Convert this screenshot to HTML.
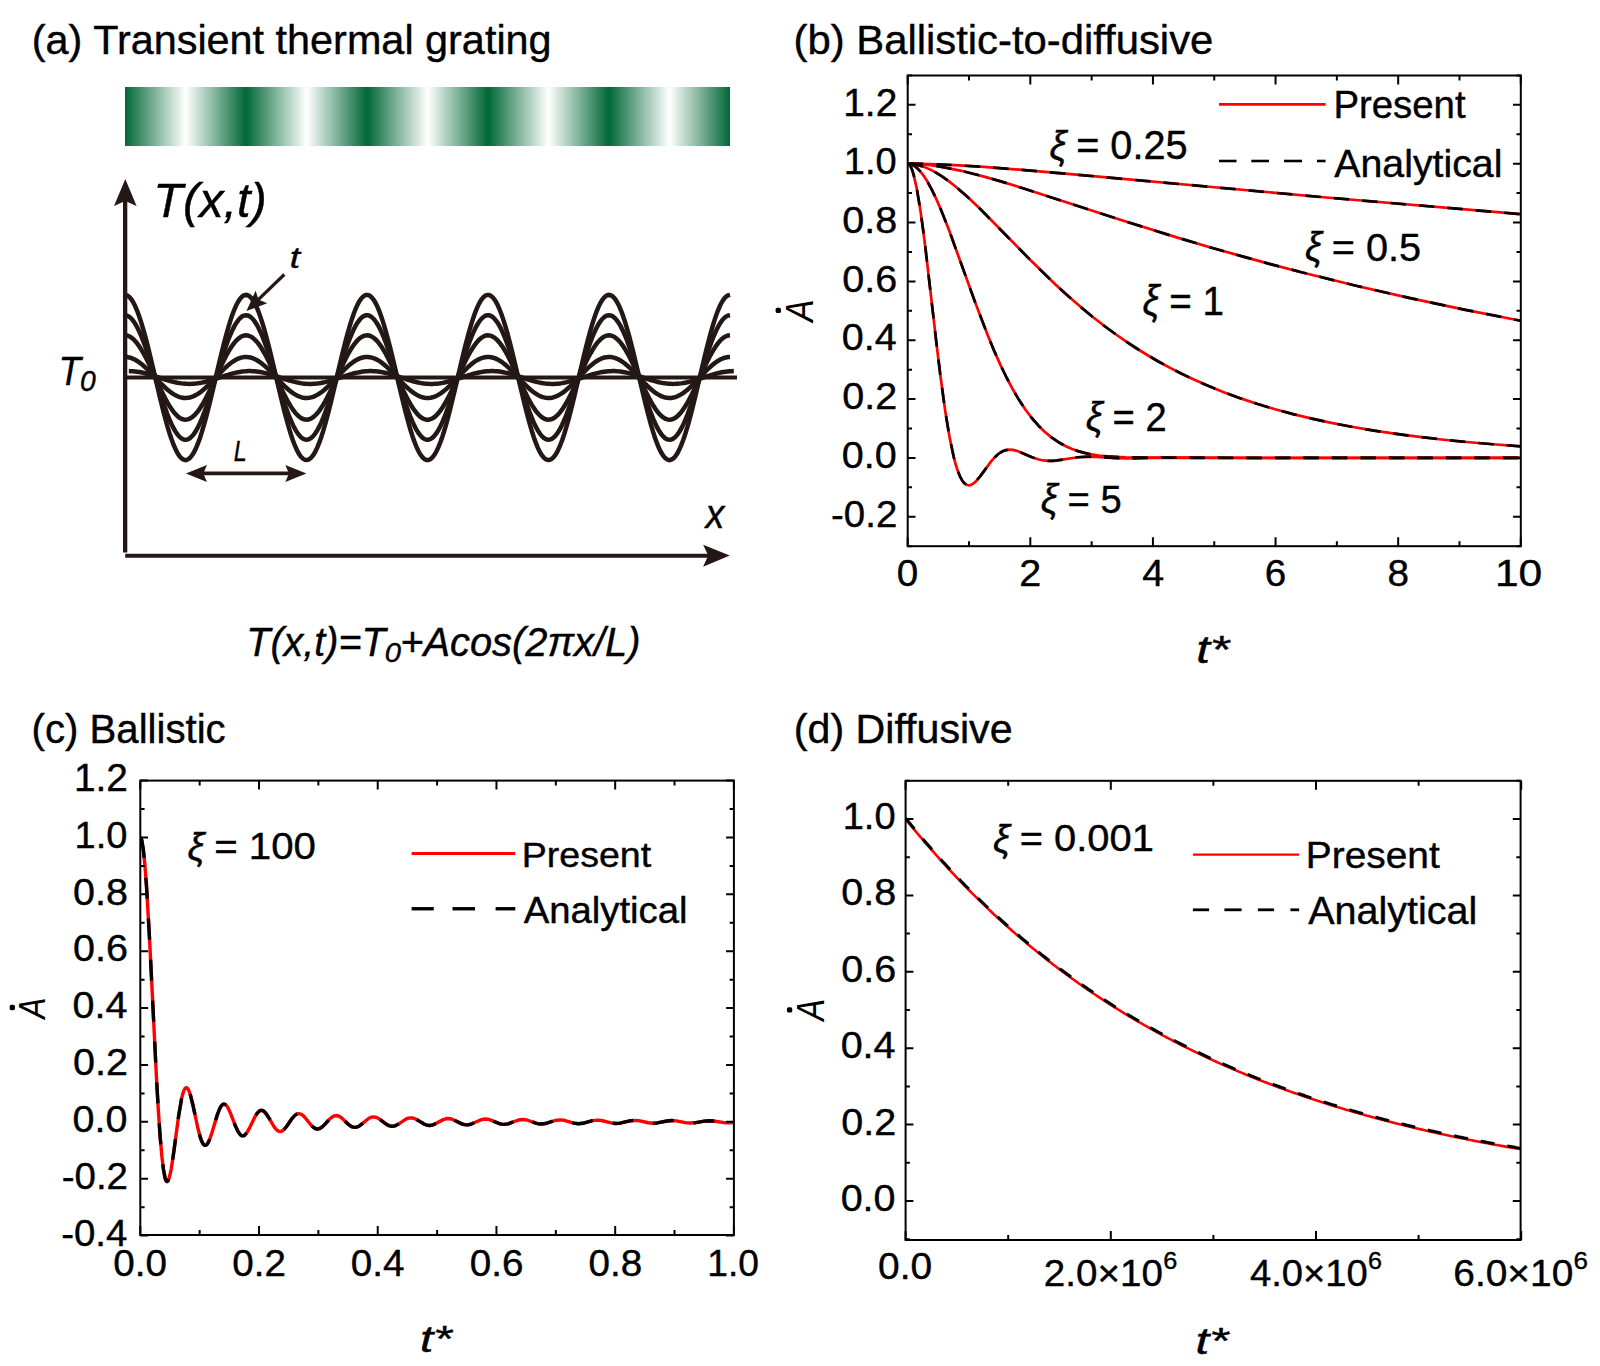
<!DOCTYPE html>
<html><head><meta charset="utf-8"><title>TTG figure</title>
<style>html,body{margin:0;padding:0;background:#fff;}svg{display:block;}</style></head>
<body><svg width="1600" height="1366" viewBox="0 0 1600 1366">
<rect width="1600" height="1366" fill="#fff"/>
<defs><linearGradient id="gr" gradientUnits="userSpaceOnUse" x1="125" y1="0" x2="246" y2="0" spreadMethod="repeat"><stop offset="0" stop-color="#006837"/><stop offset="0.5" stop-color="#ffffff"/><stop offset="1" stop-color="#006837"/></linearGradient></defs>
<rect x="125" y="87" width="605" height="59" fill="url(#gr)"/>
<path d="M125.00,294.90 L127.02,295.36 L129.05,296.72 L131.07,298.97 L133.09,302.09 L135.12,306.04 L137.14,310.78 L139.16,316.25 L141.19,322.40 L143.21,329.16 L145.23,336.45 L147.26,344.19 L149.28,352.31 L151.30,360.69 L153.33,369.27 L155.35,377.93 L157.37,386.59 L159.40,395.15 L161.42,403.52 L163.44,411.60 L165.47,419.30 L167.49,426.54 L169.52,433.24 L171.54,439.33 L173.56,444.73 L175.59,449.39 L177.61,453.26 L179.63,456.30 L181.66,458.46 L183.68,459.73 L185.70,460.10 L187.73,459.55 L189.75,458.10 L191.77,455.76 L193.80,452.55 L195.82,448.52 L197.84,443.71 L199.87,438.16 L201.89,431.95 L203.91,425.13 L205.94,417.79 L207.96,410.01 L209.98,401.87 L212.01,393.45 L214.03,384.87 L216.05,376.20 L218.08,367.54 L220.10,359.00 L222.12,350.66 L224.15,342.61 L226.17,334.95 L228.19,327.76 L230.22,321.12 L232.24,315.10 L234.26,309.77 L236.29,305.18 L238.31,301.40 L240.33,298.45 L242.36,296.37 L244.38,295.19 L246.40,294.92 L248.43,295.56 L250.45,297.10 L252.47,299.53 L254.50,302.81 L256.52,306.92 L258.55,311.82 L260.57,317.43 L262.59,323.71 L264.62,330.58 L266.64,337.97 L268.66,345.79 L270.69,353.96 L272.71,362.40 L274.73,371.00 L276.76,379.67 L278.78,388.32 L280.80,396.85 L282.83,405.16 L284.85,413.17 L286.87,420.79 L288.90,427.93 L290.92,434.51 L292.94,440.46 L294.97,445.72 L296.99,450.23 L299.01,453.94 L301.04,456.80 L303.06,458.79 L305.08,459.88 L307.11,460.06 L309.13,459.33 L311.15,457.70 L313.18,455.18 L315.20,451.81 L317.22,447.62 L319.25,442.65 L321.27,436.97 L323.29,430.63 L325.32,423.71 L327.34,416.27 L329.36,408.41 L331.39,400.20 L333.41,391.75 L335.43,383.14 L337.46,374.46 L339.48,365.82 L341.51,357.31 L343.53,349.02 L345.55,341.05 L347.58,333.48 L349.60,326.39 L351.62,319.87 L353.65,313.98 L355.67,308.79 L357.69,304.36 L359.72,300.74 L361.74,297.96 L363.76,296.06 L365.79,295.06 L367.81,294.97 L369.83,295.79 L371.86,297.51 L373.88,300.11 L375.90,303.57 L377.93,307.84 L379.95,312.88 L381.97,318.63 L384.00,325.04 L386.02,332.02 L388.04,339.50 L390.07,347.40 L392.09,355.63 L394.11,364.11 L396.14,372.73 L398.16,381.40 L400.18,390.04 L402.21,398.53 L404.23,406.79 L406.25,414.73 L408.28,422.26 L410.30,429.29 L412.32,435.75 L414.35,441.57 L416.37,446.69 L418.39,451.04 L420.42,454.58 L422.44,457.27 L424.46,459.08 L426.49,459.99 L428.51,459.99 L430.54,459.08 L432.56,457.27 L434.58,454.58 L436.61,451.04 L438.63,446.69 L440.65,441.57 L442.68,435.75 L444.70,429.29 L446.72,422.26 L448.75,414.73 L450.77,406.79 L452.79,398.53 L454.82,390.04 L456.84,381.40 L458.86,372.73 L460.89,364.11 L462.91,355.63 L464.93,347.40 L466.96,339.50 L468.98,332.02 L471.00,325.04 L473.03,318.63 L475.05,312.88 L477.07,307.84 L479.10,303.57 L481.12,300.11 L483.14,297.51 L485.17,295.79 L487.19,294.97 L489.21,295.06 L491.24,296.06 L493.26,297.96 L495.28,300.74 L497.31,304.36 L499.33,308.79 L501.35,313.98 L503.38,319.87 L505.40,326.39 L507.42,333.48 L509.45,341.05 L511.47,349.02 L513.49,357.31 L515.52,365.82 L517.54,374.46 L519.57,383.14 L521.59,391.75 L523.61,400.20 L525.64,408.41 L527.66,416.27 L529.68,423.71 L531.71,430.63 L533.73,436.97 L535.75,442.65 L537.78,447.62 L539.80,451.81 L541.82,455.18 L543.85,457.70 L545.87,459.33 L547.89,460.06 L549.92,459.88 L551.94,458.79 L553.96,456.80 L555.99,453.94 L558.01,450.23 L560.03,445.72 L562.06,440.46 L564.08,434.51 L566.10,427.93 L568.13,420.79 L570.15,413.17 L572.17,405.16 L574.20,396.85 L576.22,388.32 L578.24,379.67 L580.27,371.00 L582.29,362.40 L584.31,353.96 L586.34,345.79 L588.36,337.97 L590.38,330.58 L592.41,323.71 L594.43,317.43 L596.45,311.82 L598.48,306.92 L600.50,302.81 L602.53,299.53 L604.55,297.10 L606.57,295.56 L608.60,294.92 L610.62,295.19 L612.64,296.37 L614.67,298.45 L616.69,301.40 L618.71,305.18 L620.74,309.77 L622.76,315.10 L624.78,321.12 L626.81,327.76 L628.83,334.95 L630.85,342.61 L632.88,350.66 L634.90,359.00 L636.92,367.54 L638.95,376.20 L640.97,384.87 L642.99,393.45 L645.02,401.87 L647.04,410.01 L649.06,417.79 L651.09,425.13 L653.11,431.95 L655.13,438.16 L657.16,443.71 L659.18,448.52 L661.20,452.55 L663.23,455.76 L665.25,458.10 L667.27,459.55 L669.30,460.10 L671.32,459.73 L673.34,458.46 L675.37,456.30 L677.39,453.26 L679.41,449.39 L681.44,444.73 L683.46,439.33 L685.48,433.24 L687.51,426.54 L689.53,419.30 L691.56,411.60 L693.58,403.52 L695.60,395.15 L697.63,386.59 L699.65,377.93 L701.67,369.27 L703.70,360.69 L705.72,352.31 L707.74,344.19 L709.77,336.45 L711.79,329.16 L713.81,322.40 L715.84,316.25 L717.86,310.78 L719.88,306.04 L721.91,302.09 L723.93,298.97 L725.95,296.72 L727.98,295.36 L730.00,294.90" fill="none" stroke="#231815" stroke-width="4.5"/>
<path d="M125.00,315.20 L127.02,315.54 L129.05,316.57 L131.07,318.27 L133.09,320.62 L135.12,323.60 L137.14,327.18 L139.16,331.30 L141.19,335.94 L143.21,341.04 L145.23,346.54 L147.26,352.38 L149.28,358.50 L151.30,364.82 L153.33,371.29 L155.35,377.83 L157.37,384.36 L159.40,390.82 L161.42,397.12 L163.44,403.22 L165.47,409.03 L167.49,414.49 L169.52,419.54 L171.54,424.13 L173.56,428.21 L175.59,431.72 L177.61,434.64 L179.63,436.93 L181.66,438.56 L183.68,439.52 L185.70,439.80 L187.73,439.38 L189.75,438.29 L191.77,436.52 L193.80,434.11 L195.82,431.07 L197.84,427.44 L199.87,423.25 L201.89,418.57 L203.91,413.43 L205.94,407.89 L207.96,402.02 L209.98,395.88 L212.01,389.53 L214.03,383.06 L216.05,376.52 L218.08,369.99 L220.10,363.55 L222.12,357.25 L224.15,351.19 L226.17,345.41 L228.19,339.99 L230.22,334.98 L232.24,330.44 L234.26,326.41 L236.29,322.96 L238.31,320.10 L240.33,317.88 L242.36,316.31 L244.38,315.42 L246.40,315.21 L248.43,315.69 L250.45,316.86 L252.47,318.69 L254.50,321.17 L256.52,324.27 L258.55,327.96 L260.57,332.19 L262.59,336.93 L264.62,342.11 L266.64,347.68 L268.66,353.58 L270.69,359.75 L272.71,366.11 L274.73,372.60 L276.76,379.14 L278.78,385.66 L280.80,392.09 L282.83,398.36 L284.85,404.40 L286.87,410.15 L288.90,415.53 L290.92,420.50 L292.94,424.99 L294.97,428.96 L296.99,432.36 L299.01,435.15 L301.04,437.31 L303.06,438.81 L305.08,439.63 L307.11,439.77 L309.13,439.22 L311.15,437.99 L313.18,436.09 L315.20,433.55 L317.22,430.39 L319.25,426.64 L321.27,422.36 L323.29,417.57 L325.32,412.35 L327.34,406.74 L329.36,400.81 L331.39,394.62 L333.41,388.25 L335.43,381.75 L337.46,375.21 L339.48,368.69 L341.51,362.27 L343.53,356.02 L345.55,350.01 L347.58,344.30 L349.60,338.95 L351.62,334.03 L353.65,329.59 L355.67,325.68 L357.69,322.34 L359.72,319.60 L361.74,317.51 L363.76,316.08 L365.79,315.32 L367.81,315.26 L369.83,315.87 L371.86,317.17 L373.88,319.13 L375.90,321.74 L377.93,324.96 L379.95,328.76 L381.97,333.10 L384.00,337.93 L386.02,343.19 L388.04,348.84 L390.07,354.80 L392.09,361.01 L394.11,367.40 L396.14,373.90 L398.16,380.44 L400.18,386.95 L402.21,393.36 L404.23,399.59 L406.25,405.58 L408.28,411.26 L410.30,416.56 L412.32,421.44 L414.35,425.83 L416.37,429.68 L418.39,432.97 L420.42,435.63 L422.44,437.66 L424.46,439.03 L426.49,439.71 L428.51,439.71 L430.54,439.03 L432.56,437.66 L434.58,435.63 L436.61,432.97 L438.63,429.68 L440.65,425.83 L442.68,421.44 L444.70,416.56 L446.72,411.26 L448.75,405.58 L450.77,399.59 L452.79,393.36 L454.82,386.95 L456.84,380.44 L458.86,373.90 L460.89,367.40 L462.91,361.01 L464.93,354.80 L466.96,348.84 L468.98,343.19 L471.00,337.93 L473.03,333.10 L475.05,328.76 L477.07,324.96 L479.10,321.74 L481.12,319.13 L483.14,317.17 L485.17,315.87 L487.19,315.26 L489.21,315.32 L491.24,316.08 L493.26,317.51 L495.28,319.60 L497.31,322.34 L499.33,325.68 L501.35,329.59 L503.38,334.03 L505.40,338.95 L507.42,344.30 L509.45,350.01 L511.47,356.02 L513.49,362.27 L515.52,368.69 L517.54,375.21 L519.57,381.75 L521.59,388.25 L523.61,394.62 L525.64,400.81 L527.66,406.74 L529.68,412.35 L531.71,417.57 L533.73,422.36 L535.75,426.64 L537.78,430.39 L539.80,433.55 L541.82,436.09 L543.85,437.99 L545.87,439.22 L547.89,439.77 L549.92,439.63 L551.94,438.81 L553.96,437.31 L555.99,435.15 L558.01,432.36 L560.03,428.96 L562.06,424.99 L564.08,420.50 L566.10,415.53 L568.13,410.15 L570.15,404.40 L572.17,398.36 L574.20,392.09 L576.22,385.66 L578.24,379.14 L580.27,372.60 L582.29,366.11 L584.31,359.75 L586.34,353.58 L588.36,347.68 L590.38,342.11 L592.41,336.93 L594.43,332.19 L596.45,327.96 L598.48,324.27 L600.50,321.17 L602.53,318.69 L604.55,316.86 L606.57,315.69 L608.60,315.21 L610.62,315.42 L612.64,316.31 L614.67,317.88 L616.69,320.10 L618.71,322.96 L620.74,326.41 L622.76,330.44 L624.78,334.98 L626.81,339.99 L628.83,345.41 L630.85,351.19 L632.88,357.25 L634.90,363.55 L636.92,369.99 L638.95,376.52 L640.97,383.06 L642.99,389.53 L645.02,395.88 L647.04,402.02 L649.06,407.89 L651.09,413.43 L653.11,418.57 L655.13,423.25 L657.16,427.44 L659.18,431.07 L661.20,434.11 L663.23,436.52 L665.25,438.29 L667.27,439.38 L669.30,439.80 L671.32,439.52 L673.34,438.56 L675.37,436.93 L677.39,434.64 L679.41,431.72 L681.44,428.21 L683.46,424.13 L685.48,419.54 L687.51,414.49 L689.53,409.03 L691.56,403.22 L693.58,397.12 L695.60,390.82 L697.63,384.36 L699.65,377.83 L701.67,371.29 L703.70,364.82 L705.72,358.50 L707.74,352.38 L709.77,346.54 L711.79,341.04 L713.81,335.94 L715.84,331.30 L717.86,327.18 L719.88,323.60 L721.91,320.62 L723.93,318.27 L725.95,316.57 L727.98,315.54 L730.00,315.20" fill="none" stroke="#231815" stroke-width="4.5"/>
<path d="M125.00,335.30 L127.02,335.53 L129.05,336.23 L131.07,337.38 L133.09,338.97 L135.12,340.99 L137.14,343.41 L139.16,346.21 L141.19,349.35 L143.21,352.80 L145.23,356.53 L147.26,360.48 L149.28,364.63 L151.30,368.91 L153.33,373.29 L155.35,377.72 L157.37,382.15 L159.40,386.52 L161.42,390.79 L163.44,394.92 L165.47,398.86 L167.49,402.55 L169.52,405.98 L171.54,409.09 L173.56,411.85 L175.59,414.23 L177.61,416.21 L179.63,417.76 L181.66,418.86 L183.68,419.51 L185.70,419.70 L187.73,419.42 L189.75,418.68 L191.77,417.48 L193.80,415.84 L195.82,413.78 L197.84,411.33 L199.87,408.49 L201.89,405.32 L203.91,401.84 L205.94,398.09 L207.96,394.11 L209.98,389.95 L212.01,385.65 L214.03,381.26 L216.05,376.83 L218.08,372.41 L220.10,368.05 L222.12,363.79 L224.15,359.68 L226.17,355.76 L228.19,352.09 L230.22,348.70 L232.24,345.62 L234.26,342.90 L236.29,340.55 L238.31,338.62 L240.33,337.11 L242.36,336.05 L244.38,335.45 L246.40,335.31 L248.43,335.63 L250.45,336.42 L252.47,337.66 L254.50,339.34 L256.52,341.44 L258.55,343.94 L260.57,346.81 L262.59,350.02 L264.62,353.53 L266.64,357.30 L268.66,361.30 L270.69,365.48 L272.71,369.78 L274.73,374.18 L276.76,378.61 L278.78,383.03 L280.80,387.38 L282.83,391.63 L284.85,395.72 L286.87,399.62 L288.90,403.26 L290.92,406.63 L292.94,409.67 L294.97,412.36 L296.99,414.66 L299.01,416.55 L301.04,418.01 L303.06,419.03 L305.08,419.59 L307.11,419.68 L309.13,419.31 L311.15,418.47 L313.18,417.19 L315.20,415.47 L317.22,413.32 L319.25,410.79 L321.27,407.88 L323.29,404.64 L325.32,401.11 L327.34,397.31 L329.36,393.29 L331.39,389.10 L333.41,384.78 L335.43,380.38 L337.46,375.95 L339.48,371.53 L341.51,367.19 L343.53,362.95 L345.55,358.88 L347.58,355.01 L349.60,351.39 L351.62,348.05 L353.65,345.05 L355.67,342.40 L357.69,340.13 L359.72,338.28 L361.74,336.86 L363.76,335.89 L365.79,335.38 L367.81,335.34 L369.83,335.76 L371.86,336.63 L373.88,337.96 L375.90,339.73 L377.93,341.91 L379.95,344.49 L381.97,347.43 L384.00,350.70 L386.02,354.26 L388.04,358.09 L390.07,362.12 L392.09,366.33 L394.11,370.66 L396.14,375.06 L398.16,379.49 L400.18,383.90 L402.21,388.24 L404.23,392.46 L406.25,396.52 L408.28,400.37 L410.30,403.96 L412.32,407.26 L414.35,410.24 L416.37,412.85 L418.39,415.07 L420.42,416.88 L422.44,418.25 L424.46,419.18 L426.49,419.64 L428.51,419.64 L430.54,419.18 L432.56,418.25 L434.58,416.88 L436.61,415.07 L438.63,412.85 L440.65,410.24 L442.68,407.26 L444.70,403.96 L446.72,400.37 L448.75,396.52 L450.77,392.46 L452.79,388.24 L454.82,383.90 L456.84,379.49 L458.86,375.06 L460.89,370.66 L462.91,366.33 L464.93,362.12 L466.96,358.09 L468.98,354.26 L471.00,350.70 L473.03,347.43 L475.05,344.49 L477.07,341.91 L479.10,339.73 L481.12,337.96 L483.14,336.63 L485.17,335.76 L487.19,335.34 L489.21,335.38 L491.24,335.89 L493.26,336.86 L495.28,338.28 L497.31,340.13 L499.33,342.40 L501.35,345.05 L503.38,348.05 L505.40,351.39 L507.42,355.01 L509.45,358.88 L511.47,362.95 L513.49,367.19 L515.52,371.53 L517.54,375.95 L519.57,380.38 L521.59,384.78 L523.61,389.10 L525.64,393.29 L527.66,397.31 L529.68,401.11 L531.71,404.64 L533.73,407.88 L535.75,410.79 L537.78,413.32 L539.80,415.47 L541.82,417.19 L543.85,418.47 L545.87,419.31 L547.89,419.68 L549.92,419.59 L551.94,419.03 L553.96,418.01 L555.99,416.55 L558.01,414.66 L560.03,412.36 L562.06,409.67 L564.08,406.63 L566.10,403.26 L568.13,399.62 L570.15,395.72 L572.17,391.63 L574.20,387.38 L576.22,383.03 L578.24,378.61 L580.27,374.18 L582.29,369.78 L584.31,365.48 L586.34,361.30 L588.36,357.30 L590.38,353.53 L592.41,350.02 L594.43,346.81 L596.45,343.94 L598.48,341.44 L600.50,339.34 L602.53,337.66 L604.55,336.42 L606.57,335.63 L608.60,335.31 L610.62,335.45 L612.64,336.05 L614.67,337.11 L616.69,338.62 L618.71,340.55 L620.74,342.90 L622.76,345.62 L624.78,348.70 L626.81,352.09 L628.83,355.76 L630.85,359.68 L632.88,363.79 L634.90,368.05 L636.92,372.41 L638.95,376.83 L640.97,381.26 L642.99,385.65 L645.02,389.95 L647.04,394.11 L649.06,398.09 L651.09,401.84 L653.11,405.32 L655.13,408.49 L657.16,411.33 L659.18,413.78 L661.20,415.84 L663.23,417.48 L665.25,418.68 L667.27,419.42 L669.30,419.70 L671.32,419.51 L673.34,418.86 L675.37,417.76 L677.39,416.21 L679.41,414.23 L681.44,411.85 L683.46,409.09 L685.48,405.98 L687.51,402.55 L689.53,398.86 L691.56,394.92 L693.58,390.79 L695.60,386.52 L697.63,382.15 L699.65,377.72 L701.67,373.29 L703.70,368.91 L705.72,364.63 L707.74,360.48 L709.77,356.53 L711.79,352.80 L713.81,349.35 L715.84,346.21 L717.86,343.41 L719.88,340.99 L721.91,338.97 L723.93,337.38 L725.95,336.23 L727.98,335.53 L730.00,335.30" fill="none" stroke="#231815" stroke-width="4.5"/>
<path d="M125.00,357.00 L127.02,357.11 L129.05,357.45 L131.07,358.01 L133.09,358.78 L135.12,359.76 L137.14,360.94 L139.16,362.30 L141.19,363.83 L143.21,365.50 L145.23,367.31 L147.26,369.23 L149.28,371.25 L151.30,373.33 L153.33,375.46 L155.35,377.61 L157.37,379.76 L159.40,381.88 L161.42,383.96 L163.44,385.96 L165.47,387.87 L167.49,389.67 L169.52,391.33 L171.54,392.84 L173.56,394.19 L175.59,395.34 L177.61,396.30 L179.63,397.06 L181.66,397.59 L183.68,397.91 L185.70,398.00 L187.73,397.86 L189.75,397.50 L191.77,396.92 L193.80,396.13 L195.82,395.13 L197.84,393.93 L199.87,392.56 L201.89,391.01 L203.91,389.32 L205.94,387.50 L207.96,385.57 L209.98,383.55 L212.01,381.46 L214.03,379.33 L216.05,377.18 L218.08,375.03 L220.10,372.91 L222.12,370.84 L224.15,368.84 L226.17,366.94 L228.19,365.16 L230.22,363.51 L232.24,362.01 L234.26,360.69 L236.29,359.55 L238.31,358.61 L240.33,357.88 L242.36,357.37 L244.38,357.07 L246.40,357.00 L248.43,357.16 L250.45,357.55 L252.47,358.15 L254.50,358.96 L256.52,359.98 L258.55,361.20 L260.57,362.59 L262.59,364.15 L264.62,365.85 L266.64,367.69 L268.66,369.63 L270.69,371.66 L272.71,373.75 L274.73,375.89 L276.76,378.04 L278.78,380.18 L280.80,382.30 L282.83,384.37 L284.85,386.35 L286.87,388.24 L288.90,390.02 L290.92,391.65 L292.94,393.13 L294.97,394.43 L296.99,395.55 L299.01,396.47 L301.04,397.18 L303.06,397.67 L305.08,397.94 L307.11,397.99 L309.13,397.81 L311.15,397.40 L313.18,396.78 L315.20,395.94 L317.22,394.90 L319.25,393.67 L321.27,392.26 L323.29,390.69 L325.32,388.97 L327.34,387.12 L329.36,385.17 L331.39,383.13 L333.41,381.04 L335.43,378.90 L337.46,376.75 L339.48,374.60 L341.51,372.49 L343.53,370.43 L345.55,368.45 L347.58,366.57 L349.60,364.81 L351.62,363.20 L353.65,361.73 L355.67,360.45 L357.69,359.35 L359.72,358.45 L361.74,357.76 L363.76,357.29 L365.79,357.04 L367.81,357.02 L369.83,357.22 L371.86,357.65 L373.88,358.29 L375.90,359.15 L377.93,360.21 L379.95,361.46 L381.97,362.89 L384.00,364.48 L386.02,366.21 L388.04,368.07 L390.07,370.03 L392.09,372.07 L394.11,374.18 L396.14,376.32 L398.16,378.47 L400.18,380.61 L402.21,382.72 L404.23,384.77 L406.25,386.74 L408.28,388.61 L410.30,390.35 L412.32,391.96 L414.35,393.40 L416.37,394.67 L418.39,395.75 L420.42,396.63 L422.44,397.30 L424.46,397.75 L426.49,397.97 L428.51,397.97 L430.54,397.75 L432.56,397.30 L434.58,396.63 L436.61,395.75 L438.63,394.67 L440.65,393.40 L442.68,391.96 L444.70,390.35 L446.72,388.61 L448.75,386.74 L450.77,384.77 L452.79,382.72 L454.82,380.61 L456.84,378.47 L458.86,376.32 L460.89,374.18 L462.91,372.07 L464.93,370.03 L466.96,368.07 L468.98,366.21 L471.00,364.48 L473.03,362.89 L475.05,361.46 L477.07,360.21 L479.10,359.15 L481.12,358.29 L483.14,357.65 L485.17,357.22 L487.19,357.02 L489.21,357.04 L491.24,357.29 L493.26,357.76 L495.28,358.45 L497.31,359.35 L499.33,360.45 L501.35,361.73 L503.38,363.20 L505.40,364.81 L507.42,366.57 L509.45,368.45 L511.47,370.43 L513.49,372.49 L515.52,374.60 L517.54,376.75 L519.57,378.90 L521.59,381.04 L523.61,383.13 L525.64,385.17 L527.66,387.12 L529.68,388.97 L531.71,390.69 L533.73,392.26 L535.75,393.67 L537.78,394.90 L539.80,395.94 L541.82,396.78 L543.85,397.40 L545.87,397.81 L547.89,397.99 L549.92,397.94 L551.94,397.67 L553.96,397.18 L555.99,396.47 L558.01,395.55 L560.03,394.43 L562.06,393.13 L564.08,391.65 L566.10,390.02 L568.13,388.24 L570.15,386.35 L572.17,384.37 L574.20,382.30 L576.22,380.18 L578.24,378.04 L580.27,375.89 L582.29,373.75 L584.31,371.66 L586.34,369.63 L588.36,367.69 L590.38,365.85 L592.41,364.15 L594.43,362.59 L596.45,361.20 L598.48,359.98 L600.50,358.96 L602.53,358.15 L604.55,357.55 L606.57,357.16 L608.60,357.00 L610.62,357.07 L612.64,357.37 L614.67,357.88 L616.69,358.61 L618.71,359.55 L620.74,360.69 L622.76,362.01 L624.78,363.51 L626.81,365.16 L628.83,366.94 L630.85,368.84 L632.88,370.84 L634.90,372.91 L636.92,375.03 L638.95,377.18 L640.97,379.33 L642.99,381.46 L645.02,383.55 L647.04,385.57 L649.06,387.50 L651.09,389.32 L653.11,391.01 L655.13,392.56 L657.16,393.93 L659.18,395.13 L661.20,396.13 L663.23,396.92 L665.25,397.50 L667.27,397.86 L669.30,398.00 L671.32,397.91 L673.34,397.59 L675.37,397.06 L677.39,396.30 L679.41,395.34 L681.44,394.19 L683.46,392.84 L685.48,391.33 L687.51,389.67 L689.53,387.87 L691.56,385.96 L693.58,383.96 L695.60,381.88 L697.63,379.76 L699.65,377.61 L701.67,375.46 L703.70,373.33 L705.72,371.25 L707.74,369.23 L709.77,367.31 L711.79,365.50 L713.81,363.83 L715.84,362.30 L717.86,360.94 L719.88,359.76 L721.91,358.78 L723.93,358.01 L725.95,357.45 L727.98,357.11 L730.00,357.00" fill="none" stroke="#231815" stroke-width="4.5"/>
<path d="M128.80,371.10 L130.82,371.14 L132.85,371.24 L134.87,371.42 L136.89,371.66 L138.92,371.96 L140.94,372.33 L142.96,372.75 L144.99,373.23 L147.01,373.75 L149.03,374.32 L151.06,374.92 L153.08,375.55 L155.10,376.20 L157.13,376.86 L159.15,377.53 L161.17,378.20 L163.20,378.87 L165.22,379.52 L167.24,380.14 L169.27,380.74 L171.29,381.30 L173.32,381.82 L175.34,382.29 L177.36,382.71 L179.39,383.07 L181.41,383.37 L183.43,383.61 L185.46,383.77 L187.48,383.87 L189.50,383.90 L191.53,383.86 L193.55,383.74 L195.57,383.56 L197.60,383.32 L199.62,383.00 L201.64,382.63 L203.67,382.20 L205.69,381.72 L207.71,381.19 L209.74,380.62 L211.76,380.02 L213.78,379.39 L215.81,378.74 L217.83,378.07 L219.85,377.40 L221.88,376.73 L223.90,376.07 L225.92,375.42 L227.95,374.80 L229.97,374.20 L231.99,373.65 L234.02,373.13 L236.04,372.67 L238.06,372.25 L240.09,371.90 L242.11,371.60 L244.13,371.37 L246.16,371.21 L248.18,371.12 L250.20,371.10 L252.23,371.15 L254.25,371.27 L256.27,371.46 L258.30,371.71 L260.32,372.03 L262.35,372.41 L264.37,372.85 L266.39,373.33 L268.42,373.86 L270.44,374.44 L272.46,375.04 L274.49,375.68 L276.51,376.33 L278.53,377.00 L280.56,377.67 L282.58,378.34 L284.60,379.00 L286.63,379.64 L288.65,380.26 L290.67,380.85 L292.70,381.41 L294.72,381.92 L296.74,382.38 L298.77,382.79 L300.79,383.14 L302.81,383.42 L304.84,383.64 L306.86,383.80 L308.88,383.88 L310.91,383.90 L312.93,383.84 L314.95,383.71 L316.98,383.52 L319.00,383.26 L321.02,382.93 L323.05,382.55 L325.07,382.11 L327.09,381.62 L329.12,381.08 L331.14,380.50 L333.16,379.89 L335.19,379.26 L337.21,378.60 L339.23,377.94 L341.26,377.26 L343.28,376.60 L345.31,375.94 L347.33,375.29 L349.35,374.68 L351.38,374.09 L353.40,373.54 L355.42,373.03 L357.45,372.58 L359.47,372.18 L361.49,371.83 L363.52,371.55 L365.54,371.34 L367.56,371.19 L369.59,371.11 L371.61,371.11 L373.63,371.17 L375.66,371.30 L377.68,371.50 L379.70,371.77 L381.73,372.10 L383.75,372.49 L385.77,372.94 L387.80,373.44 L389.82,373.98 L391.84,374.56 L393.87,375.17 L395.89,375.81 L397.91,376.46 L399.94,377.13 L401.96,377.80 L403.98,378.47 L406.01,379.13 L408.03,379.77 L410.05,380.38 L412.08,380.97 L414.10,381.51 L416.12,382.01 L418.15,382.46 L420.17,382.86 L422.19,383.20 L424.22,383.47 L426.24,383.68 L428.26,383.82 L430.29,383.89 L432.31,383.89 L434.34,383.82 L436.36,383.68 L438.38,383.47 L440.41,383.20 L442.43,382.86 L444.45,382.46 L446.48,382.01 L448.50,381.51 L450.52,380.97 L452.55,380.38 L454.57,379.77 L456.59,379.13 L458.62,378.47 L460.64,377.80 L462.66,377.13 L464.69,376.46 L466.71,375.81 L468.73,375.17 L470.76,374.56 L472.78,373.98 L474.80,373.44 L476.83,372.94 L478.85,372.49 L480.87,372.10 L482.90,371.77 L484.92,371.50 L486.94,371.30 L488.97,371.17 L490.99,371.11 L493.01,371.11 L495.04,371.19 L497.06,371.34 L499.08,371.55 L501.11,371.83 L503.13,372.18 L505.15,372.58 L507.18,373.03 L509.20,373.54 L511.22,374.09 L513.25,374.68 L515.27,375.29 L517.29,375.94 L519.32,376.60 L521.34,377.26 L523.37,377.94 L525.39,378.60 L527.41,379.26 L529.44,379.89 L531.46,380.50 L533.48,381.08 L535.51,381.62 L537.53,382.11 L539.55,382.55 L541.58,382.93 L543.60,383.26 L545.62,383.52 L547.65,383.71 L549.67,383.84 L551.69,383.90 L553.72,383.88 L555.74,383.80 L557.76,383.64 L559.79,383.42 L561.81,383.14 L563.83,382.79 L565.86,382.38 L567.88,381.92 L569.90,381.41 L571.93,380.85 L573.95,380.26 L575.97,379.64 L578.00,379.00 L580.02,378.34 L582.04,377.67 L584.07,377.00 L586.09,376.33 L588.11,375.68 L590.14,375.04 L592.16,374.44 L594.18,373.86 L596.21,373.33 L598.23,372.85 L600.25,372.41 L602.28,372.03 L604.30,371.71 L606.33,371.46 L608.35,371.27 L610.37,371.15 L612.40,371.10 L614.42,371.12 L616.44,371.21 L618.47,371.37 L620.49,371.60 L622.51,371.90 L624.54,372.25 L626.56,372.67 L628.58,373.13 L630.61,373.65 L632.63,374.20 L634.65,374.80 L636.68,375.42 L638.70,376.07 L640.72,376.73 L642.75,377.40 L644.77,378.07 L646.79,378.74 L648.82,379.39 L650.84,380.02 L652.86,380.62 L654.89,381.19 L656.91,381.72 L658.93,382.20 L660.96,382.63 L662.98,383.00 L665.00,383.32 L667.03,383.56 L669.05,383.74 L671.07,383.86 L673.10,383.90 L675.12,383.87 L677.14,383.77 L679.17,383.61 L681.19,383.37 L683.21,383.07 L685.24,382.71 L687.26,382.29 L689.28,381.82 L691.31,381.30 L693.33,380.74 L695.36,380.14 L697.38,379.52 L699.40,378.87 L701.43,378.20 L703.45,377.53 L705.47,376.86 L707.50,376.20 L709.52,375.55 L711.54,374.92 L713.57,374.32 L715.59,373.75 L717.61,373.23 L719.64,372.75 L721.66,372.33 L723.68,371.96 L725.71,371.66 L727.73,371.42 L729.75,371.24 L731.78,371.14 L733.80,371.10" fill="none" stroke="#231815" stroke-width="4.5"/>
<line x1="125" y1="377.5" x2="737" y2="377.5" stroke="#231815" stroke-width="4"/>
<line x1="125.15" y1="552.6" x2="125.15" y2="200" stroke="#231815" stroke-width="4.3"/>
<polygon points="125.3,178.9 136.6,206 125.3,201 114,206" fill="#231815"/>
<line x1="125.2" y1="555.8" x2="709" y2="555.8" stroke="#231815" stroke-width="4"/>
<polygon points="729.8,555.6 703.1,544.8 708.2,555.6 703.1,566.7" fill="#231815"/>
<line x1="284.3" y1="274.5" x2="256" y2="301.8" stroke="#231815" stroke-width="3.2"/>
<polygon points="246.4,311 255.6,290.8 258.5,299.5 267.2,303.2" fill="#231815"/>
<line x1="200" y1="473.4" x2="292" y2="473.4" stroke="#231815" stroke-width="3.6"/>
<polygon points="185.9,473.4 207,465 203.3,473.4 207,481.9" fill="#231815"/>
<polygon points="306.4,473.4 285.3,465 289,473.4 285.3,481.9" fill="#231815"/>
<defs><clipPath id="cb"><rect x="907.7" y="75.5" width="613.1" height="470.7"/></clipPath><clipPath id="cc"><rect x="140.3" y="780.6" width="593.6" height="454.4"/></clipPath><clipPath id="cd"><rect x="905.6" y="780.8" width="615" height="459.2"/></clipPath></defs>
<path d="M907.70,163.70 L929.77,164.05 L954.91,165.13 L984.09,166.96 L1019.16,169.66 L1076.55,174.67 L1326.32,197.48 L1520.80,214.20" fill="none" stroke="#ff0000" stroke-width="2.7" stroke-linejoin="round" clip-path="url(#cb)"/>
<path d="M907.70,163.70 L929.77,164.05 L954.91,165.13 L984.09,166.96 L1019.16,169.66 L1076.55,174.67 L1326.32,197.48 L1520.80,214.20" fill="none" stroke="#000" stroke-width="2.7" stroke-dasharray="15.5 13" stroke-linejoin="round" clip-path="url(#cb)"/>
<path d="M907.70,163.70 L915.55,163.89 L923.76,164.47 L932.47,165.45 L941.54,166.82 L961.41,170.81 L984.09,176.58 L1001.63,181.62 L1022.23,187.97 L1122.65,220.57 L1179.18,238.14 L1209.84,247.21 L1240.49,255.92 L1271.27,264.33 L1302.41,272.48 L1355.02,285.48 L1408.97,297.87 L1464.15,309.63 L1520.80,320.80" fill="none" stroke="#ff0000" stroke-width="2.7" stroke-linejoin="round" clip-path="url(#cb)"/>
<path d="M907.70,163.70 L915.55,163.89 L923.76,164.47 L932.47,165.45 L941.54,166.82 L961.41,170.81 L984.09,176.58 L1001.63,181.62 L1022.23,187.97 L1122.65,220.57 L1179.18,238.14 L1209.84,247.21 L1240.49,255.92 L1271.27,264.33 L1302.41,272.48 L1355.02,285.48 L1408.97,297.87 L1464.15,309.63 L1520.80,320.80" fill="none" stroke="#000" stroke-width="2.7" stroke-dasharray="15.5 13" stroke-linejoin="round" clip-path="url(#cb)"/>
<path d="M907.70,163.70 L912.97,164.05 L918.37,165.10 L924.01,166.87 L929.89,169.38 L936.03,172.64 L942.40,176.63 L949.02,181.35 L956.13,186.96 L967.42,196.80 L980.29,209.04 L1031.18,260.84 L1055.21,284.22 L1067.84,295.78 L1080.23,306.58 L1092.49,316.70 L1104.75,326.24 L1115.30,333.99 L1125.96,341.41 L1136.75,348.50 L1147.67,355.25 L1158.83,361.73 L1170.11,367.88 L1181.63,373.76 L1193.28,379.32 L1208.61,386.07 L1224.43,392.44 L1240.74,398.40 L1257.66,404.01 L1275.07,409.23 L1293.09,414.10 L1311.86,418.65 L1331.35,422.87 L1351.58,426.77 L1372.55,430.36 L1394.50,433.67 L1417.43,436.71 L1441.34,439.47 L1466.48,441.98 L1492.97,444.26 L1520.80,446.31" fill="none" stroke="#ff0000" stroke-width="2.7" stroke-linejoin="round" clip-path="url(#cb)"/>
<path d="M907.70,163.70 L912.97,164.05 L918.37,165.10 L924.01,166.87 L929.89,169.38 L936.03,172.64 L942.40,176.63 L949.02,181.35 L956.13,186.96 L967.42,196.80 L980.29,209.04 L1031.18,260.84 L1055.21,284.22 L1067.84,295.78 L1080.23,306.58 L1092.49,316.70 L1104.75,326.24 L1115.30,333.99 L1125.96,341.41 L1136.75,348.50 L1147.67,355.25 L1158.83,361.73 L1170.11,367.88 L1181.63,373.76 L1193.28,379.32 L1208.61,386.07 L1224.43,392.44 L1240.74,398.40 L1257.66,404.01 L1275.07,409.23 L1293.09,414.10 L1311.86,418.65 L1331.35,422.87 L1351.58,426.77 L1372.55,430.36 L1394.50,433.67 L1417.43,436.71 L1441.34,439.47 L1466.48,441.98 L1492.97,444.26 L1520.80,446.31" fill="none" stroke="#000" stroke-width="2.7" stroke-dasharray="15.5 13" stroke-linejoin="round" clip-path="url(#cb)"/>
<path d="M907.70,163.70 L910.89,164.22 L914.08,165.75 L917.39,168.33 L920.70,171.85 L924.13,176.43 L927.69,182.08 L931.37,188.79 L935.29,196.80 L941.67,211.40 L948.90,229.77 L976.00,304.64 L988.14,336.31 L994.51,351.64 L1000.77,365.63 L1006.90,378.25 L1013.03,389.76 L1019.28,400.32 L1025.54,409.73 L1031.79,418.01 L1038.29,425.48 L1044.91,431.97 L1051.78,437.63 L1058.89,442.44 L1066.37,446.50 L1072.13,449.01 L1078.14,451.14 L1084.52,452.92 L1091.26,454.37 L1098.50,455.50 L1106.34,456.36 L1125.23,457.34 L1278.50,457.90 L1520.80,457.90" fill="none" stroke="#ff0000" stroke-width="2.7" stroke-linejoin="round" clip-path="url(#cb)"/>
<path d="M907.70,163.70 L910.89,164.22 L914.08,165.75 L917.39,168.33 L920.70,171.85 L924.13,176.43 L927.69,182.08 L931.37,188.79 L935.29,196.80 L941.67,211.40 L948.90,229.77 L976.00,304.64 L988.14,336.31 L994.51,351.64 L1000.77,365.63 L1006.90,378.25 L1013.03,389.76 L1019.28,400.32 L1025.54,409.73 L1031.79,418.01 L1038.29,425.48 L1044.91,431.97 L1051.78,437.63 L1058.89,442.44 L1066.37,446.50 L1072.13,449.01 L1078.14,451.14 L1084.52,452.92 L1091.26,454.37 L1098.50,455.50 L1106.34,456.36 L1125.23,457.34 L1278.50,457.90 L1520.80,457.90" fill="none" stroke="#000" stroke-width="2.7" stroke-dasharray="15.5 13" stroke-linejoin="round" clip-path="url(#cb)"/>
<path d="M907.70,163.70 L909.05,164.29 L910.52,166.25 L911.99,169.53 L913.46,174.09 L916.53,187.33 L919.84,206.65 L922.66,226.43 L925.73,250.54 L936.52,343.85 L940.81,378.95 L945.22,410.99 L949.39,436.34 L953.56,456.32 L955.64,464.24 L957.73,470.80 L959.81,476.04 L962.02,480.22 L964.23,483.08 L966.56,484.80 L968.64,485.33 L970.73,485.02 L973.06,483.82 L975.51,481.77 L979.92,476.66 L991.33,461.16 L994.64,457.40 L997.70,454.53 L1000.52,452.47 L1003.22,451.04 L1006.04,450.10 L1008.98,449.69 L1012.91,449.93 L1017.32,451.04 L1021.49,452.64 L1032.04,457.27 L1037.92,459.30 L1043.32,460.46 L1048.84,460.91 L1052.88,460.81 L1057.30,460.39 L1077.77,457.27 L1088.32,456.69 L1096.78,456.90 L1117.01,458.17 L1127.44,458.42 L1166.43,457.67 L1205.30,458.00 L1520.80,457.90" fill="none" stroke="#ff0000" stroke-width="2.7" stroke-linejoin="round" clip-path="url(#cb)"/>
<path d="M907.70,163.70 L909.05,164.29 L910.52,166.25 L911.99,169.53 L913.46,174.09 L916.53,187.33 L919.84,206.65 L922.66,226.43 L925.73,250.54 L936.52,343.85 L940.81,378.95 L945.22,410.99 L949.39,436.34 L953.56,456.32 L955.64,464.24 L957.73,470.80 L959.81,476.04 L962.02,480.22 L964.23,483.08 L966.56,484.80 L968.64,485.33 L970.73,485.02 L973.06,483.82 L975.51,481.77 L979.92,476.66 L991.33,461.16 L994.64,457.40 L997.70,454.53 L1000.52,452.47 L1003.22,451.04 L1006.04,450.10 L1008.98,449.69 L1012.91,449.93 L1017.32,451.04 L1021.49,452.64 L1032.04,457.27 L1037.92,459.30 L1043.32,460.46 L1048.84,460.91 L1052.88,460.81 L1057.30,460.39 L1077.77,457.27 L1088.32,456.69 L1096.78,456.90 L1117.01,458.17 L1127.44,458.42 L1166.43,457.67 L1205.30,458.00 L1520.80,457.90" fill="none" stroke="#000" stroke-width="2.7" stroke-dasharray="15.5 13" stroke-linejoin="round" clip-path="url(#cb)"/>
<path d="M907.70,546.20v-9M907.70,75.50v9M1030.32,546.20v-9M1030.32,75.50v9M1152.94,546.20v-9M1152.94,75.50v9M1275.56,546.20v-9M1275.56,75.50v9M1398.18,546.20v-9M1398.18,75.50v9M1520.80,546.20v-9M1520.80,75.50v9M969.01,546.20v-5M969.01,75.50v5M1091.63,546.20v-5M1091.63,75.50v5M1214.25,546.20v-5M1214.25,75.50v5M1336.87,546.20v-5M1336.87,75.50v5M1459.49,546.20v-5M1459.49,75.50v5M907.70,516.74h7.8M1520.80,516.74h-7.8M907.70,457.90h7.8M1520.80,457.90h-7.8M907.70,399.06h7.8M1520.80,399.06h-7.8M907.70,340.22h7.8M1520.80,340.22h-7.8M907.70,281.38h7.8M1520.80,281.38h-7.8M907.70,222.54h7.8M1520.80,222.54h-7.8M907.70,163.70h7.8M1520.80,163.70h-7.8M907.70,104.86h7.8M1520.80,104.86h-7.8M907.70,546.16h4.3M1520.80,546.16h-4.3M907.70,487.32h4.3M1520.80,487.32h-4.3M907.70,428.48h4.3M1520.80,428.48h-4.3M907.70,369.64h4.3M1520.80,369.64h-4.3M907.70,310.80h4.3M1520.80,310.80h-4.3M907.70,251.96h4.3M1520.80,251.96h-4.3M907.70,193.12h4.3M1520.80,193.12h-4.3M907.70,134.28h4.3M1520.80,134.28h-4.3M907.70,75.44h4.3M1520.80,75.44h-4.3" stroke="#000" stroke-width="2.0" fill="none"/>
<rect x="907.70" y="75.50" width="613.10" height="470.70" fill="none" stroke="#000" stroke-width="2.0"/>
<line x1="1219" y1="104.4" x2="1325.6" y2="104.4" stroke="#ff0000" stroke-width="2.6"/>
<line x1="1219" y1="161" x2="1236.5" y2="161" stroke="#000" stroke-width="2.6"/>
<line x1="1251.3" y1="161" x2="1269" y2="161" stroke="#000" stroke-width="2.6"/>
<line x1="1284" y1="161" x2="1302" y2="161" stroke="#000" stroke-width="2.6"/>
<line x1="1317" y1="161" x2="1325.6" y2="161" stroke="#000" stroke-width="2.6"/>
<path d="M140.30,837.44 L141.01,838.12 L141.78,840.39 L143.33,849.59 L144.93,865.34 L146.59,887.61 L149.56,939.04 L156.62,1080.57 L158.46,1112.14 L160.19,1137.06 L161.85,1156.13 L163.45,1169.50 L165.11,1178.08 L165.94,1180.39 L166.77,1181.44 L167.31,1181.48 L167.84,1181.04 L168.91,1178.84 L170.04,1174.77 L171.23,1168.86 L173.36,1155.07 L178.65,1115.77 L181.38,1099.69 L182.62,1094.39 L183.81,1090.73 L185.00,1088.48 L186.19,1087.65 L187.25,1088.08 L188.32,1089.56 L189.45,1092.14 L190.70,1096.06 L192.83,1104.73 L197.94,1128.51 L200.55,1138.20 L201.74,1141.39 L202.87,1143.59 L203.99,1144.94 L205.12,1145.42 L206.19,1145.09 L207.32,1143.95 L208.45,1142.08 L209.63,1139.41 L211.83,1133.03 L216.93,1115.93 L219.43,1109.26 L220.55,1107.05 L221.68,1105.43 L222.81,1104.44 L223.88,1104.10 L224.95,1104.33 L226.08,1105.18 L227.20,1106.59 L228.45,1108.72 L230.65,1113.62 L235.75,1126.82 L238.30,1132.07 L240.50,1134.92 L241.57,1135.64 L242.64,1135.90 L243.76,1135.68 L244.89,1134.98 L247.27,1132.09 L249.46,1128.13 L254.57,1117.50 L257.06,1113.38 L259.26,1111.08 L260.33,1110.51 L261.34,1110.32 L262.46,1110.49 L263.59,1111.07 L265.97,1113.44 L268.16,1116.70 L273.27,1125.52 L275.76,1128.96 L277.96,1130.87 L280.03,1131.52 L281.16,1131.37 L282.29,1130.88 L284.72,1128.82 L286.92,1126.04 L292.02,1118.58 L294.46,1115.74 L296.65,1114.11 L298.73,1113.57 L300.99,1114.11 L303.42,1115.89 L305.62,1118.28 L310.72,1124.70 L313.16,1127.15 L315.29,1128.53 L317.37,1129.01 L319.63,1128.55 L322.06,1127.03 L324.32,1124.89 L329.42,1119.29 L331.85,1117.16 L333.99,1115.97 L336.07,1115.55 L338.03,1115.86 L340.11,1116.87 L342.48,1118.71 L347.53,1123.59 L349.84,1125.52 L352.33,1126.92 L354.71,1127.40 L356.67,1127.14 L358.74,1126.25 L361.12,1124.63 L368.54,1118.54 L371.03,1117.30 L373.41,1116.88 L375.37,1117.12 L377.44,1117.92 L379.82,1119.38 L387.18,1124.79 L389.67,1125.90 L392.05,1126.29 L394.00,1126.08 L396.08,1125.37 L398.46,1124.06 L405.88,1119.16 L408.37,1118.16 L410.74,1117.82 L412.70,1118.02 L414.78,1118.67 L417.16,1119.86 L424.52,1124.26 L427.01,1125.17 L429.32,1125.48 L431.34,1125.30 L433.42,1124.72 L443.21,1119.62 L445.71,1118.80 L448.02,1118.53 L450.04,1118.69 L452.12,1119.23 L461.85,1123.86 L464.35,1124.61 L466.66,1124.87 L468.68,1124.72 L470.76,1124.23 L480.49,1119.99 L482.99,1119.30 L485.36,1119.06 L487.38,1119.21 L489.46,1119.66 L499.13,1123.53 L501.62,1124.17 L503.94,1124.39 L508.09,1123.84 L517.83,1120.27 L520.32,1119.69 L522.64,1119.49 L526.79,1120.00 L536.47,1123.29 L538.90,1123.82 L541.22,1124.01 L545.43,1123.54 L555.11,1120.50 L559.92,1119.83 L564.13,1120.27 L573.75,1123.08 L578.44,1123.70 L582.71,1123.31 L592.45,1120.68 L597.19,1120.11 L601.41,1120.48 L611.02,1122.91 L615.65,1123.45 L619.99,1123.12 L629.72,1120.84 L634.47,1120.33 L638.75,1120.67 L648.24,1122.75 L652.81,1123.24 L657.27,1122.95 L667.00,1120.97 L671.75,1120.53 L676.14,1120.83 L685.40,1122.61 L689.80,1123.06 L694.54,1122.82 L704.28,1121.08 L708.85,1120.69 L713.66,1120.98 L725.65,1122.84 L729.63,1122.88 L733.90,1122.43" fill="none" stroke="#ff0000" stroke-width="3.4" stroke-linejoin="round" clip-path="url(#cc)"/>
<path d="M140.30,837.44 L141.01,838.12 L141.78,840.39 L143.33,849.59 L144.93,865.34 L146.59,887.61 L149.56,939.04 L156.62,1080.57 L158.46,1112.14 L160.19,1137.06 L161.85,1156.13 L163.45,1169.50 L165.11,1178.08 L165.94,1180.39 L166.77,1181.44 L167.31,1181.48 L167.84,1181.04 L168.91,1178.84 L170.04,1174.77 L171.23,1168.86 L173.36,1155.07 L178.65,1115.77 L181.38,1099.69 L182.62,1094.39 L183.81,1090.73 L185.00,1088.48 L186.19,1087.65 L187.25,1088.08 L188.32,1089.56 L189.45,1092.14 L190.70,1096.06 L192.83,1104.73 L197.94,1128.51 L200.55,1138.20 L201.74,1141.39 L202.87,1143.59 L203.99,1144.94 L205.12,1145.42 L206.19,1145.09 L207.32,1143.95 L208.45,1142.08 L209.63,1139.41 L211.83,1133.03 L216.93,1115.93 L219.43,1109.26 L220.55,1107.05 L221.68,1105.43 L222.81,1104.44 L223.88,1104.10 L224.95,1104.33 L226.08,1105.18 L227.20,1106.59 L228.45,1108.72 L230.65,1113.62 L235.75,1126.82 L238.30,1132.07 L240.50,1134.92 L241.57,1135.64 L242.64,1135.90 L243.76,1135.68 L244.89,1134.98 L247.27,1132.09 L249.46,1128.13 L254.57,1117.50 L257.06,1113.38 L259.26,1111.08 L260.33,1110.51 L261.34,1110.32 L262.46,1110.49 L263.59,1111.07 L265.97,1113.44 L268.16,1116.70 L273.27,1125.52 L275.76,1128.96 L277.96,1130.87 L280.03,1131.52 L281.16,1131.37 L282.29,1130.88 L284.72,1128.82 L286.92,1126.04 L292.02,1118.58 L294.46,1115.74 L296.65,1114.11 L298.73,1113.57 L300.99,1114.11 L303.42,1115.89 L305.62,1118.28 L310.72,1124.70 L313.16,1127.15 L315.29,1128.53 L317.37,1129.01 L319.63,1128.55 L322.06,1127.03 L324.32,1124.89 L329.42,1119.29 L331.85,1117.16 L333.99,1115.97 L336.07,1115.55 L338.03,1115.86 L340.11,1116.87 L342.48,1118.71 L347.53,1123.59 L349.84,1125.52 L352.33,1126.92 L354.71,1127.40 L356.67,1127.14 L358.74,1126.25 L361.12,1124.63 L368.54,1118.54 L371.03,1117.30 L373.41,1116.88 L375.37,1117.12 L377.44,1117.92 L379.82,1119.38 L387.18,1124.79 L389.67,1125.90 L392.05,1126.29 L394.00,1126.08 L396.08,1125.37 L398.46,1124.06 L405.88,1119.16 L408.37,1118.16 L410.74,1117.82 L412.70,1118.02 L414.78,1118.67 L417.16,1119.86 L424.52,1124.26 L427.01,1125.17 L429.32,1125.48 L431.34,1125.30 L433.42,1124.72 L443.21,1119.62 L445.71,1118.80 L448.02,1118.53 L450.04,1118.69 L452.12,1119.23 L461.85,1123.86 L464.35,1124.61 L466.66,1124.87 L468.68,1124.72 L470.76,1124.23 L480.49,1119.99 L482.99,1119.30 L485.36,1119.06 L487.38,1119.21 L489.46,1119.66 L499.13,1123.53 L501.62,1124.17 L503.94,1124.39 L508.09,1123.84 L517.83,1120.27 L520.32,1119.69 L522.64,1119.49 L526.79,1120.00 L536.47,1123.29 L538.90,1123.82 L541.22,1124.01 L545.43,1123.54 L555.11,1120.50 L559.92,1119.83 L564.13,1120.27 L573.75,1123.08 L578.44,1123.70 L582.71,1123.31 L592.45,1120.68 L597.19,1120.11 L601.41,1120.48 L611.02,1122.91 L615.65,1123.45 L619.99,1123.12 L629.72,1120.84 L634.47,1120.33 L638.75,1120.67 L648.24,1122.75 L652.81,1123.24 L657.27,1122.95 L667.00,1120.97 L671.75,1120.53 L676.14,1120.83 L685.40,1122.61 L689.80,1123.06 L694.54,1122.82 L704.28,1121.08 L708.85,1120.69 L713.66,1120.98 L725.65,1122.84 L729.63,1122.88 L733.90,1122.43" fill="none" stroke="#000" stroke-width="3.4" stroke-dasharray="21 20" stroke-linejoin="round" clip-path="url(#cc)"/>
<path d="M140.30,1235.00v-9M140.30,780.60v9M259.02,1235.00v-9M259.02,780.60v9M377.74,1235.00v-9M377.74,780.60v9M496.46,1235.00v-9M496.46,780.60v9M615.18,1235.00v-9M615.18,780.60v9M733.90,1235.00v-9M733.90,780.60v9M199.66,1235.00v-5M199.66,780.60v5M318.38,1235.00v-5M318.38,780.60v5M437.10,1235.00v-5M437.10,780.60v5M555.82,1235.00v-5M555.82,780.60v5M674.54,1235.00v-5M674.54,780.60v5M140.30,1235.60h7.8M733.90,1235.60h-7.8M140.30,1178.72h7.8M733.90,1178.72h-7.8M140.30,1121.84h7.8M733.90,1121.84h-7.8M140.30,1064.96h7.8M733.90,1064.96h-7.8M140.30,1008.08h7.8M733.90,1008.08h-7.8M140.30,951.20h7.8M733.90,951.20h-7.8M140.30,894.32h7.8M733.90,894.32h-7.8M140.30,837.44h7.8M733.90,837.44h-7.8M140.30,780.56h7.8M733.90,780.56h-7.8M140.30,1207.16h4.3M733.90,1207.16h-4.3M140.30,1150.28h4.3M733.90,1150.28h-4.3M140.30,1093.40h4.3M733.90,1093.40h-4.3M140.30,1036.52h4.3M733.90,1036.52h-4.3M140.30,979.64h4.3M733.90,979.64h-4.3M140.30,922.76h4.3M733.90,922.76h-4.3M140.30,865.88h4.3M733.90,865.88h-4.3M140.30,809.00h4.3M733.90,809.00h-4.3" stroke="#000" stroke-width="2.0" fill="none"/>
<rect x="140.30" y="780.60" width="593.60" height="454.40" fill="none" stroke="#000" stroke-width="2.0"/>
<line x1="411.6" y1="853.4" x2="515.3" y2="853.4" stroke="#ff0000" stroke-width="3.0"/>
<line x1="411.6" y1="908.75" x2="433.75" y2="908.75" stroke="#000" stroke-width="3.4"/>
<line x1="452.5" y1="908.75" x2="475" y2="908.75" stroke="#000" stroke-width="3.4"/>
<line x1="495.6" y1="908.75" x2="515.3" y2="908.75" stroke="#000" stroke-width="3.4"/>
<path d="M905.60,819.00 L907.14,820.91 L908.69,822.81 L910.23,824.70 L911.77,826.58 L913.31,828.45 L914.86,830.32 L916.40,832.17 L917.94,834.02 L919.49,835.85 L921.03,837.68 L922.57,839.49 L924.11,841.30 L925.66,843.10 L927.20,844.89 L928.74,846.67 L930.29,848.44 L931.83,850.20 L933.37,851.96 L934.91,853.70 L936.46,855.44 L938.00,857.17 L939.54,858.89 L941.09,860.60 L942.63,862.30 L944.17,863.99 L945.71,865.68 L947.26,867.35 L948.80,869.02 L950.34,870.68 L951.89,872.33 L953.43,873.98 L954.97,875.61 L956.51,877.24 L958.06,878.86 L959.60,880.47 L961.14,882.07 L962.69,883.67 L964.23,885.25 L965.77,886.83 L967.31,888.40 L968.86,889.96 L970.40,891.52 L971.94,893.07 L973.49,894.61 L975.03,896.14 L976.57,897.66 L978.11,899.18 L979.66,900.69 L981.20,902.19 L982.74,903.68 L984.29,905.17 L985.83,906.65 L987.37,908.12 L988.91,909.59 L990.46,911.04 L992.00,912.49 L993.54,913.94 L995.09,915.37 L996.63,916.80 L998.17,918.22 L999.71,919.63 L1001.26,921.04 L1002.80,922.44 L1004.34,923.83 L1005.89,925.22 L1007.43,926.60 L1008.97,927.97 L1010.51,929.34 L1012.06,930.69 L1013.60,932.05 L1015.14,933.39 L1016.69,934.73 L1018.23,936.06 L1019.77,937.38 L1021.31,938.70 L1022.86,940.01 L1024.40,941.32 L1025.94,942.62 L1027.49,943.91 L1029.03,945.19 L1030.57,946.47 L1032.11,947.75 L1033.66,949.01 L1035.20,950.27 L1036.74,951.53 L1038.29,952.77 L1039.83,954.01 L1041.37,955.25 L1042.91,956.48 L1044.46,957.70 L1046.00,958.92 L1047.54,960.13 L1049.09,961.33 L1050.63,962.53 L1052.17,963.72 L1053.71,964.91 L1055.26,966.09 L1056.80,967.26 L1058.34,968.43 L1059.89,969.60 L1061.43,970.75 L1062.97,971.90 L1064.51,973.05 L1066.06,974.19 L1067.60,975.32 L1069.14,976.45 L1070.69,977.57 L1072.23,978.69 L1073.77,979.80 L1075.31,980.91 L1076.86,982.01 L1078.40,983.10 L1079.94,984.19 L1081.49,985.28 L1083.03,986.36 L1084.57,987.43 L1086.11,988.50 L1087.66,989.56 L1089.20,990.62 L1090.74,991.67 L1092.29,992.72 L1093.83,993.76 L1095.37,994.79 L1096.91,995.82 L1098.46,996.85 L1100.00,997.87 L1101.54,998.89 L1103.09,999.90 L1104.63,1000.90 L1106.17,1001.90 L1107.71,1002.90 L1109.26,1003.89 L1110.80,1004.87 L1112.34,1005.86 L1113.89,1006.83 L1115.43,1007.80 L1116.97,1008.77 L1118.51,1009.73 L1120.06,1010.69 L1121.60,1011.64 L1123.14,1012.58 L1124.69,1013.53 L1126.23,1014.46 L1127.77,1015.40 L1129.31,1016.32 L1130.86,1017.25 L1132.40,1018.17 L1133.94,1019.08 L1135.49,1019.99 L1137.03,1020.89 L1138.57,1021.80 L1140.11,1022.69 L1141.66,1023.58 L1143.20,1024.47 L1144.74,1025.35 L1146.29,1026.23 L1147.83,1027.10 L1149.37,1027.97 L1150.91,1028.84 L1152.46,1029.70 L1154.00,1030.56 L1155.54,1031.41 L1157.09,1032.26 L1158.63,1033.10 L1160.17,1033.94 L1161.71,1034.78 L1163.26,1035.61 L1164.80,1036.43 L1166.34,1037.26 L1167.89,1038.07 L1169.43,1038.89 L1170.97,1039.70 L1172.51,1040.51 L1174.06,1041.31 L1175.60,1042.11 L1177.14,1042.90 L1178.69,1043.69 L1180.23,1044.48 L1181.77,1045.26 L1183.31,1046.04 L1184.86,1046.82 L1186.40,1047.59 L1187.94,1048.35 L1189.49,1049.12 L1191.03,1049.88 L1192.57,1050.63 L1194.11,1051.38 L1195.66,1052.13 L1197.20,1052.88 L1198.74,1053.62 L1200.29,1054.35 L1201.83,1055.09 L1203.37,1055.82 L1204.91,1056.54 L1206.46,1057.26 L1208.00,1057.98 L1209.54,1058.70 L1211.09,1059.41 L1212.63,1060.12 L1214.17,1060.82 L1215.71,1061.52 L1217.26,1062.22 L1218.80,1062.91 L1220.34,1063.60 L1221.89,1064.29 L1223.43,1064.97 L1224.97,1065.66 L1226.51,1066.33 L1228.06,1067.01 L1229.60,1067.68 L1231.14,1068.34 L1232.69,1069.01 L1234.23,1069.66 L1235.77,1070.32 L1237.31,1070.98 L1238.86,1071.63 L1240.40,1072.27 L1241.94,1072.92 L1243.49,1073.56 L1245.03,1074.19 L1246.57,1074.83 L1248.11,1075.46 L1249.66,1076.09 L1251.20,1076.71 L1252.74,1077.33 L1254.29,1077.95 L1255.83,1078.57 L1257.37,1079.18 L1258.91,1079.79 L1260.46,1080.39 L1262.00,1081.00 L1263.54,1081.60 L1265.09,1082.19 L1266.63,1082.79 L1268.17,1083.38 L1269.71,1083.97 L1271.26,1084.55 L1272.80,1085.13 L1274.34,1085.71 L1275.89,1086.29 L1277.43,1086.86 L1278.97,1087.43 L1280.51,1088.00 L1282.06,1088.57 L1283.60,1089.13 L1285.14,1089.69 L1286.69,1090.24 L1288.23,1090.80 L1289.77,1091.35 L1291.31,1091.90 L1292.86,1092.44 L1294.40,1092.99 L1295.94,1093.53 L1297.49,1094.06 L1299.03,1094.60 L1300.57,1095.13 L1302.11,1095.66 L1303.66,1096.19 L1305.20,1096.71 L1306.74,1097.23 L1308.29,1097.75 L1309.83,1098.27 L1311.37,1098.78 L1312.91,1099.29 L1314.46,1099.80 L1316.00,1100.31 L1317.54,1100.81 L1319.09,1101.31 L1320.63,1101.81 L1322.17,1102.30 L1323.71,1102.80 L1325.26,1103.29 L1326.80,1103.78 L1328.34,1104.26 L1329.89,1104.75 L1331.43,1105.23 L1332.97,1105.71 L1334.51,1106.18 L1336.06,1106.66 L1337.60,1107.13 L1339.14,1107.60 L1340.69,1108.07 L1342.23,1108.53 L1343.77,1108.99 L1345.31,1109.45 L1346.86,1109.91 L1348.40,1110.37 L1349.94,1110.82 L1351.49,1111.27 L1353.03,1111.72 L1354.57,1112.17 L1356.11,1112.61 L1357.66,1113.05 L1359.20,1113.49 L1360.74,1113.93 L1362.29,1114.36 L1363.83,1114.80 L1365.37,1115.23 L1366.91,1115.66 L1368.46,1116.08 L1370.00,1116.51 L1371.54,1116.93 L1373.09,1117.35 L1374.63,1117.77 L1376.17,1118.19 L1377.71,1118.60 L1379.26,1119.01 L1380.80,1119.42 L1382.34,1119.83 L1383.89,1120.24 L1385.43,1120.64 L1386.97,1121.04 L1388.51,1121.44 L1390.06,1121.84 L1391.60,1122.23 L1393.14,1122.63 L1394.69,1123.02 L1396.23,1123.41 L1397.77,1123.80 L1399.31,1124.18 L1400.86,1124.57 L1402.40,1124.95 L1403.94,1125.33 L1405.49,1125.71 L1407.03,1126.09 L1408.57,1126.46 L1410.11,1126.83 L1411.66,1127.20 L1413.20,1127.57 L1414.74,1127.94 L1416.29,1128.30 L1417.83,1128.67 L1419.37,1129.03 L1420.91,1129.39 L1422.46,1129.75 L1424.00,1130.10 L1425.54,1130.46 L1427.09,1130.81 L1428.63,1131.16 L1430.17,1131.51 L1431.71,1131.86 L1433.26,1132.20 L1434.80,1132.55 L1436.34,1132.89 L1437.89,1133.23 L1439.43,1133.57 L1440.97,1133.91 L1442.51,1134.24 L1444.06,1134.58 L1445.60,1134.91 L1447.14,1135.24 L1448.69,1135.57 L1450.23,1135.90 L1451.77,1136.22 L1453.31,1136.54 L1454.86,1136.87 L1456.40,1137.19 L1457.94,1137.51 L1459.49,1137.82 L1461.03,1138.14 L1462.57,1138.45 L1464.11,1138.77 L1465.66,1139.08 L1467.20,1139.39 L1468.74,1139.70 L1470.29,1140.00 L1471.83,1140.31 L1473.37,1140.61 L1474.91,1140.91 L1476.46,1141.21 L1478.00,1141.51 L1479.54,1141.81 L1481.09,1142.11 L1482.63,1142.40 L1484.17,1142.69 L1485.71,1142.98 L1487.26,1143.27 L1488.80,1143.56 L1490.34,1143.85 L1491.89,1144.14 L1493.43,1144.42 L1494.97,1144.70 L1496.51,1144.98 L1498.06,1145.26 L1499.60,1145.54 L1501.14,1145.82 L1502.69,1146.10 L1504.23,1146.37 L1505.77,1146.64 L1507.31,1146.92 L1508.86,1147.19 L1510.40,1147.46 L1511.94,1147.72 L1513.49,1147.99 L1515.03,1148.25 L1516.57,1148.52 L1518.11,1148.78 L1519.66,1149.04 L1521.20,1149.30" fill="none" stroke="#ff0000" stroke-width="2.6" stroke-linejoin="round" clip-path="url(#cd)"/>
<path d="M905.60,818.10 L907.14,820.01 L908.69,821.91 L910.23,823.80 L911.77,825.68 L913.31,827.55 L914.86,829.42 L916.40,831.27 L917.94,833.12 L919.49,834.95 L921.03,836.78 L922.57,838.59 L924.11,840.40 L925.66,842.20 L927.20,843.99 L928.74,845.77 L930.29,847.54 L931.83,849.30 L933.37,851.06 L934.91,852.80 L936.46,854.54 L938.00,856.27 L939.54,857.99 L941.09,859.70 L942.63,861.40 L944.17,863.09 L945.71,864.78 L947.26,866.45 L948.80,868.12 L950.34,869.78 L951.89,871.43 L953.43,873.08 L954.97,874.71 L956.51,876.34 L958.06,877.96 L959.60,879.57 L961.14,881.17 L962.69,882.77 L964.23,884.35 L965.77,885.93 L967.31,887.50 L968.86,889.06 L970.40,890.62 L971.94,892.17 L973.49,893.71 L975.03,895.24 L976.57,896.76 L978.11,898.28 L979.66,899.79 L981.20,901.29 L982.74,902.78 L984.29,904.27 L985.83,905.75 L987.37,907.22 L988.91,908.69 L990.46,910.14 L992.00,911.59 L993.54,913.04 L995.09,914.47 L996.63,915.90 L998.17,917.32 L999.71,918.73 L1001.26,920.14 L1002.80,921.54 L1004.34,922.93 L1005.89,924.32 L1007.43,925.70 L1008.97,927.07 L1010.51,928.44 L1012.06,929.79 L1013.60,931.15 L1015.14,932.49 L1016.69,933.83 L1018.23,935.16 L1019.77,936.48 L1021.31,937.80 L1022.86,939.11 L1024.40,940.42 L1025.94,941.72 L1027.49,943.01 L1029.03,944.29 L1030.57,945.57 L1032.11,946.85 L1033.66,948.11 L1035.20,949.37 L1036.74,950.63 L1038.29,951.87 L1039.83,953.11 L1041.37,954.35 L1042.91,955.58 L1044.46,956.80 L1046.00,958.02 L1047.54,959.23 L1049.09,960.43 L1050.63,961.63 L1052.17,962.82 L1053.71,964.01 L1055.26,965.19 L1056.80,966.36 L1058.34,967.53 L1059.89,968.70 L1061.43,969.85 L1062.97,971.00 L1064.51,972.15 L1066.06,973.29 L1067.60,974.42 L1069.14,975.55 L1070.69,976.67 L1072.23,977.79 L1073.77,978.90 L1075.31,980.01 L1076.86,981.11 L1078.40,982.20 L1079.94,983.29 L1081.49,984.38 L1083.03,985.46 L1084.57,986.53 L1086.11,987.60 L1087.66,988.66 L1089.20,989.72 L1090.74,990.77 L1092.29,991.82 L1093.83,992.86 L1095.37,993.89 L1096.91,994.92 L1098.46,995.95 L1100.00,996.97 L1101.54,997.99 L1103.09,999.00 L1104.63,1000.00 L1106.17,1001.00 L1107.71,1002.00 L1109.26,1002.99 L1110.80,1003.97 L1112.34,1004.96 L1113.89,1005.93 L1115.43,1006.90 L1116.97,1007.87 L1118.51,1008.83 L1120.06,1009.79 L1121.60,1010.74 L1123.14,1011.68 L1124.69,1012.63 L1126.23,1013.56 L1127.77,1014.50 L1129.31,1015.42 L1130.86,1016.35 L1132.40,1017.27 L1133.94,1018.18 L1135.49,1019.09 L1137.03,1019.99 L1138.57,1020.90 L1140.11,1021.79 L1141.66,1022.68 L1143.20,1023.57 L1144.74,1024.45 L1146.29,1025.33 L1147.83,1026.20 L1149.37,1027.07 L1150.91,1027.94 L1152.46,1028.80 L1154.00,1029.66 L1155.54,1030.51 L1157.09,1031.36 L1158.63,1032.20 L1160.17,1033.04 L1161.71,1033.88 L1163.26,1034.71 L1164.80,1035.53 L1166.34,1036.36 L1167.89,1037.17 L1169.43,1037.99 L1170.97,1038.80 L1172.51,1039.61 L1174.06,1040.41 L1175.60,1041.21 L1177.14,1042.00 L1178.69,1042.79 L1180.23,1043.58 L1181.77,1044.36 L1183.31,1045.14 L1184.86,1045.92 L1186.40,1046.69 L1187.94,1047.45 L1189.49,1048.22 L1191.03,1048.98 L1192.57,1049.73 L1194.11,1050.48 L1195.66,1051.23 L1197.20,1051.98 L1198.74,1052.72 L1200.29,1053.45 L1201.83,1054.19 L1203.37,1054.92 L1204.91,1055.64 L1206.46,1056.36 L1208.00,1057.08 L1209.54,1057.80 L1211.09,1058.51 L1212.63,1059.22 L1214.17,1059.92 L1215.71,1060.62 L1217.26,1061.32 L1218.80,1062.01 L1220.34,1062.70 L1221.89,1063.39 L1223.43,1064.07 L1224.97,1064.76 L1226.51,1065.43 L1228.06,1066.11 L1229.60,1066.78 L1231.14,1067.44 L1232.69,1068.11 L1234.23,1068.76 L1235.77,1069.42 L1237.31,1070.08 L1238.86,1070.73 L1240.40,1071.37 L1241.94,1072.02 L1243.49,1072.66 L1245.03,1073.29 L1246.57,1073.93 L1248.11,1074.56 L1249.66,1075.19 L1251.20,1075.81 L1252.74,1076.43 L1254.29,1077.05 L1255.83,1077.67 L1257.37,1078.28 L1258.91,1078.89 L1260.46,1079.49 L1262.00,1080.10 L1263.54,1080.70 L1265.09,1081.29 L1266.63,1081.89 L1268.17,1082.48 L1269.71,1083.07 L1271.26,1083.65 L1272.80,1084.23 L1274.34,1084.81 L1275.89,1085.39 L1277.43,1085.96 L1278.97,1086.53 L1280.51,1087.10 L1282.06,1087.67 L1283.60,1088.23 L1285.14,1088.79 L1286.69,1089.34 L1288.23,1089.90 L1289.77,1090.45 L1291.31,1091.00 L1292.86,1091.54 L1294.40,1092.09 L1295.94,1092.63 L1297.49,1093.16 L1299.03,1093.70 L1300.57,1094.23 L1302.11,1094.76 L1303.66,1095.29 L1305.20,1095.81 L1306.74,1096.33 L1308.29,1096.85 L1309.83,1097.37 L1311.37,1097.88 L1312.91,1098.39 L1314.46,1098.90 L1316.00,1099.41 L1317.54,1099.91 L1319.09,1100.41 L1320.63,1100.91 L1322.17,1101.40 L1323.71,1101.90 L1325.26,1102.39 L1326.80,1102.88 L1328.34,1103.36 L1329.89,1103.85 L1331.43,1104.33 L1332.97,1104.81 L1334.51,1105.28 L1336.06,1105.76 L1337.60,1106.23 L1339.14,1106.70 L1340.69,1107.17 L1342.23,1107.63 L1343.77,1108.09 L1345.31,1108.55 L1346.86,1109.01 L1348.40,1109.47 L1349.94,1109.92 L1351.49,1110.37 L1353.03,1110.82 L1354.57,1111.27 L1356.11,1111.71 L1357.66,1112.15 L1359.20,1112.59 L1360.74,1113.03 L1362.29,1113.46 L1363.83,1113.90 L1365.37,1114.33 L1366.91,1114.76 L1368.46,1115.18 L1370.00,1115.61 L1371.54,1116.03 L1373.09,1116.45 L1374.63,1116.87 L1376.17,1117.29 L1377.71,1117.70 L1379.26,1118.11 L1380.80,1118.52 L1382.34,1118.93 L1383.89,1119.34 L1385.43,1119.74 L1386.97,1120.14 L1388.51,1120.54 L1390.06,1120.94 L1391.60,1121.33 L1393.14,1121.73 L1394.69,1122.12 L1396.23,1122.51 L1397.77,1122.90 L1399.31,1123.28 L1400.86,1123.67 L1402.40,1124.05 L1403.94,1124.43 L1405.49,1124.81 L1407.03,1125.19 L1408.57,1125.56 L1410.11,1125.93 L1411.66,1126.30 L1413.20,1126.67 L1414.74,1127.04 L1416.29,1127.40 L1417.83,1127.77 L1419.37,1128.13 L1420.91,1128.49 L1422.46,1128.85 L1424.00,1129.20 L1425.54,1129.56 L1427.09,1129.91 L1428.63,1130.26 L1430.17,1130.61 L1431.71,1130.96 L1433.26,1131.30 L1434.80,1131.65 L1436.34,1131.99 L1437.89,1132.33 L1439.43,1132.67 L1440.97,1133.01 L1442.51,1133.34 L1444.06,1133.68 L1445.60,1134.01 L1447.14,1134.34 L1448.69,1134.67 L1450.23,1135.00 L1451.77,1135.32 L1453.31,1135.64 L1454.86,1135.97 L1456.40,1136.29 L1457.94,1136.61 L1459.49,1136.92 L1461.03,1137.24 L1462.57,1137.55 L1464.11,1137.87 L1465.66,1138.18 L1467.20,1138.49 L1468.74,1138.80 L1470.29,1139.10 L1471.83,1139.41 L1473.37,1139.71 L1474.91,1140.01 L1476.46,1140.31 L1478.00,1140.61 L1479.54,1140.91 L1481.09,1141.21 L1482.63,1141.50 L1484.17,1141.79 L1485.71,1142.08 L1487.26,1142.37 L1488.80,1142.66 L1490.34,1142.95 L1491.89,1143.24 L1493.43,1143.52 L1494.97,1143.80 L1496.51,1144.08 L1498.06,1144.36 L1499.60,1144.64 L1501.14,1144.92 L1502.69,1145.20 L1504.23,1145.47 L1505.77,1145.74 L1507.31,1146.02 L1508.86,1146.29 L1510.40,1146.56 L1511.94,1146.82 L1513.49,1147.09 L1515.03,1147.35 L1516.57,1147.62 L1518.11,1147.88 L1519.66,1148.14 L1521.20,1148.40" fill="none" stroke="#000" stroke-width="3.0" stroke-dasharray="14 13" stroke-linejoin="round" clip-path="url(#cd)"/>
<path d="M905.60,1240.00v-9M905.60,780.80v9M1110.80,1240.00v-9M1110.80,780.80v9M1316.00,1240.00v-9M1316.00,780.80v9M1521.20,1240.00v-9M1521.20,780.80v9M1008.20,1240.00v-5M1008.20,780.80v5M1213.40,1240.00v-5M1213.40,780.80v5M1418.60,1240.00v-5M1418.60,780.80v5M905.60,1201.00h7.8M1520.60,1201.00h-7.8M905.60,1124.60h7.8M1520.60,1124.60h-7.8M905.60,1048.20h7.8M1520.60,1048.20h-7.8M905.60,971.80h7.8M1520.60,971.80h-7.8M905.60,895.40h7.8M1520.60,895.40h-7.8M905.60,819.00h7.8M1520.60,819.00h-7.8M905.60,1239.20h4.3M1520.60,1239.20h-4.3M905.60,1162.80h4.3M1520.60,1162.80h-4.3M905.60,1086.40h4.3M1520.60,1086.40h-4.3M905.60,1010.00h4.3M1520.60,1010.00h-4.3M905.60,933.60h4.3M1520.60,933.60h-4.3M905.60,857.20h4.3M1520.60,857.20h-4.3M905.60,780.80h4.3M1520.60,780.80h-4.3" stroke="#000" stroke-width="2.0" fill="none"/>
<rect x="905.60" y="780.80" width="615.00" height="459.20" fill="none" stroke="#000" stroke-width="2.0"/>
<line x1="1192.9" y1="854.6" x2="1299.1" y2="854.6" stroke="#ff0000" stroke-width="2.4"/>
<line x1="1192.9" y1="909.8" x2="1209.1" y2="909.8" stroke="#000" stroke-width="2.8"/>
<line x1="1224.4" y1="909.8" x2="1241.6" y2="909.8" stroke="#000" stroke-width="2.8"/>
<line x1="1257.9" y1="909.8" x2="1274.1" y2="909.8" stroke="#000" stroke-width="2.8"/>
<line x1="1290.4" y1="909.8" x2="1299.1" y2="909.8" stroke="#000" stroke-width="2.8"/>
<text transform="matrix(1.0126 0 0 1 31.81 53.75)" font-family="Liberation Sans, sans-serif" font-size="40.89" fill="#000" stroke="#000" stroke-width="0.4">(a) Transient thermal grating</text>
<text transform="matrix(0.9957 0 0 1 153.19 217.40)" font-family="Liberation Sans, sans-serif" font-style="italic" font-size="48.92" fill="#000" stroke="#000" stroke-width="0.4">T(x,t)</text>
<text transform="matrix(1.2873 0 0 1 289.84 267.85)" font-family="Liberation Sans, sans-serif" font-style="italic" font-size="28.73" fill="#000" stroke="#000" stroke-width="0.4">t</text>
<text transform="matrix(0.9006 0 0 1 58.39 384.70)" font-family="Liberation Sans, sans-serif" font-style="italic" font-size="40.68" fill="#000" stroke="#000" stroke-width="0.4">T</text>
<text transform="matrix(0.9852 0 0 1 80.12 391.15)" font-family="Liberation Sans, sans-serif" font-style="italic" font-size="28.66" fill="#000" stroke="#000" stroke-width="0.4">0</text>
<text transform="matrix(0.7701 0 0 1 233.84 460.50)" font-family="Liberation Sans, sans-serif" font-style="italic" font-size="30.29" fill="#000" stroke="#000" stroke-width="0.4">L</text>
<text transform="matrix(0.9189 0 0 1 705.47 528.00)" font-family="Liberation Sans, sans-serif" font-style="italic" font-size="41.04" fill="#000" stroke="#000" stroke-width="0.4">x</text>
<text transform="matrix(0.9636 0 0 1 246.37 656.30)" font-family="Liberation Sans, sans-serif" font-style="italic" font-size="40.96" fill="#000" stroke="#000" stroke-width="0.4">T(x,t)=T</text>
<text transform="matrix(1.0330 0 0 1 384.79 662.46)" font-family="Liberation Sans, sans-serif" font-style="italic" font-size="28.24" fill="#000" stroke="#000" stroke-width="0.4">0</text>
<text transform="matrix(0.9724 0 0 1 400.26 656.30)" font-family="Liberation Sans, sans-serif" font-style="italic" font-size="40.96" fill="#000" stroke="#000" stroke-width="0.4">+Acos(2πx/L)</text>
<text transform="matrix(1.0390 0 0 1 793.54 53.60)" font-family="Liberation Sans, sans-serif" font-size="40.25" fill="#000" stroke="#000" stroke-width="0.4">(b) Ballistic-to-diffusive</text>
<text transform="matrix(1.0300 0 0 1 831.08 526.96)" font-family="Liberation Sans, sans-serif" font-size="37.29" fill="#000" stroke="#000" stroke-width="0.4">-0.2</text>
<text transform="matrix(1.0600 0 0 1 841.74 468.12)" font-family="Liberation Sans, sans-serif" font-size="37.29" fill="#000" stroke="#000" stroke-width="0.4">0.0</text>
<text transform="matrix(1.0600 0 0 1 842.36 409.28)" font-family="Liberation Sans, sans-serif" font-size="37.29" fill="#000" stroke="#000" stroke-width="0.4">0.2</text>
<text transform="matrix(1.0600 0 0 1 841.74 350.44)" font-family="Liberation Sans, sans-serif" font-size="37.29" fill="#000" stroke="#000" stroke-width="0.4">0.4</text>
<text transform="matrix(1.0600 0 0 1 842.36 291.60)" font-family="Liberation Sans, sans-serif" font-size="37.29" fill="#000" stroke="#000" stroke-width="0.4">0.6</text>
<text transform="matrix(1.0600 0 0 1 842.36 232.76)" font-family="Liberation Sans, sans-serif" font-size="37.29" fill="#000" stroke="#000" stroke-width="0.4">0.8</text>
<text transform="matrix(1.0200 0 0 1 843.78 173.92)" font-family="Liberation Sans, sans-serif" font-size="37.29" fill="#000" stroke="#000" stroke-width="0.4">1.0</text>
<text transform="matrix(1.0200 0 0 1 843.23 115.66)" font-family="Liberation Sans, sans-serif" font-size="38.12" fill="#000" stroke="#000" stroke-width="0.4">1.2</text>
<text transform="matrix(1.0600 0 0 1 896.83 585.63)" font-family="Liberation Sans, sans-serif" font-size="36.45" fill="#000" stroke="#000" stroke-width="0.4">0</text>
<text transform="matrix(1.0600 0 0 1 1019.21 586.20)" font-family="Liberation Sans, sans-serif" font-size="37.26" fill="#000" stroke="#000" stroke-width="0.4">2</text>
<text transform="matrix(1.0600 0 0 1 1142.14 586.20)" font-family="Liberation Sans, sans-serif" font-size="37.26" fill="#000" stroke="#000" stroke-width="0.4">4</text>
<text transform="matrix(1.0600 0 0 1 1264.69 585.63)" font-family="Liberation Sans, sans-serif" font-size="36.45" fill="#000" stroke="#000" stroke-width="0.4">6</text>
<text transform="matrix(1.0600 0 0 1 1387.61 585.63)" font-family="Liberation Sans, sans-serif" font-size="36.45" fill="#000" stroke="#000" stroke-width="0.4">8</text>
<text transform="matrix(1.1670 0 0 1 1494.94 585.63)" font-family="Liberation Sans, sans-serif" font-size="36.45" fill="#000" stroke="#000" stroke-width="0.4">10</text>
<text transform="matrix(1.3021 0 0 1 1196.35 663.16)" font-family="Liberation Sans, sans-serif" font-style="italic" font-size="38.03" fill="#000" stroke="#000" stroke-width="0.4">t*</text>
<text transform="matrix(0.9991 0 0 1 1333.40 117.80)" font-family="Liberation Sans, sans-serif" font-size="38.40" fill="#000" stroke="#000" stroke-width="0.4">Present</text>
<text transform="matrix(0.9940 0 0 1 1334.30 176.60)" font-family="Liberation Sans, sans-serif" font-size="39.54" fill="#000" stroke="#000" stroke-width="0.4">Analytical</text>
<text transform="matrix(0.9231 0 0 1 1049.40 159.50)" font-family="Liberation Sans, sans-serif" font-style="italic" font-size="41.60" fill="#000" stroke="#000" stroke-width="0.4">ξ</text>
<text transform="matrix(0.9924 0 0 1 1076.14 159.38)" font-family="Liberation Sans, sans-serif" font-size="40.00" fill="#000" stroke="#000" stroke-width="0.4">= 0.25</text>
<text transform="matrix(0.9415 0 0 1 1305.00 261.25)" font-family="Liberation Sans, sans-serif" font-style="italic" font-size="40.79" fill="#000" stroke="#000" stroke-width="0.4">ξ</text>
<text transform="matrix(1.0175 0 0 1 1331.74 260.99)" font-family="Liberation Sans, sans-serif" font-size="38.96" fill="#000" stroke="#000" stroke-width="0.4">= 0.5</text>
<text transform="matrix(0.9171 0 0 1 1142.40 315.45)" font-family="Liberation Sans, sans-serif" font-style="italic" font-size="41.87" fill="#000" stroke="#000" stroke-width="0.4">ξ</text>
<text transform="matrix(0.9574 0 0 1 1169.19 315.37)" font-family="Liberation Sans, sans-serif" font-size="40.35" fill="#000" stroke="#000" stroke-width="0.4">= 1</text>
<text transform="matrix(0.9243 0 0 1 1085.80 431.11)" font-family="Liberation Sans, sans-serif" font-style="italic" font-size="41.55" fill="#000" stroke="#000" stroke-width="0.4">ξ</text>
<text transform="matrix(0.9543 0 0 1 1112.61 430.98)" font-family="Liberation Sans, sans-serif" font-size="39.93" fill="#000" stroke="#000" stroke-width="0.4">= 2</text>
<text transform="matrix(0.9377 0 0 1 1040.80 513.37)" font-family="Liberation Sans, sans-serif" font-style="italic" font-size="40.95" fill="#000" stroke="#000" stroke-width="0.4">ξ</text>
<text transform="matrix(0.9729 0 0 1 1067.61 513.14)" font-family="Liberation Sans, sans-serif" font-size="39.17" fill="#000" stroke="#000" stroke-width="0.4">= 5</text>
<text transform="matrix(0.9943 0 0 1 31.62 742.60)" font-family="Liberation Sans, sans-serif" font-size="40.39" fill="#000" stroke="#000" stroke-width="0.4">(c) Ballistic</text>
<text transform="matrix(1.0300 0 0 1 61.18 1245.82)" font-family="Liberation Sans, sans-serif" font-size="37.29" fill="#000" stroke="#000" stroke-width="0.4">-0.4</text>
<text transform="matrix(1.0300 0 0 1 61.78 1188.94)" font-family="Liberation Sans, sans-serif" font-size="37.29" fill="#000" stroke="#000" stroke-width="0.4">-0.2</text>
<text transform="matrix(1.0600 0 0 1 72.44 1132.06)" font-family="Liberation Sans, sans-serif" font-size="37.29" fill="#000" stroke="#000" stroke-width="0.4">0.0</text>
<text transform="matrix(1.0600 0 0 1 73.06 1075.18)" font-family="Liberation Sans, sans-serif" font-size="37.29" fill="#000" stroke="#000" stroke-width="0.4">0.2</text>
<text transform="matrix(1.0600 0 0 1 72.44 1018.30)" font-family="Liberation Sans, sans-serif" font-size="37.29" fill="#000" stroke="#000" stroke-width="0.4">0.4</text>
<text transform="matrix(1.0600 0 0 1 73.06 961.42)" font-family="Liberation Sans, sans-serif" font-size="37.29" fill="#000" stroke="#000" stroke-width="0.4">0.6</text>
<text transform="matrix(1.0600 0 0 1 73.06 904.54)" font-family="Liberation Sans, sans-serif" font-size="37.29" fill="#000" stroke="#000" stroke-width="0.4">0.8</text>
<text transform="matrix(1.0200 0 0 1 74.48 847.66)" font-family="Liberation Sans, sans-serif" font-size="37.29" fill="#000" stroke="#000" stroke-width="0.4">1.0</text>
<text transform="matrix(1.0200 0 0 1 73.93 791.36)" font-family="Liberation Sans, sans-serif" font-size="38.12" fill="#000" stroke="#000" stroke-width="0.4">1.2</text>
<text transform="matrix(1.0600 0 0 1 113.32 1275.63)" font-family="Liberation Sans, sans-serif" font-size="36.45" fill="#000" stroke="#000" stroke-width="0.4">0.0</text>
<text transform="matrix(1.0600 0 0 1 232.34 1275.63)" font-family="Liberation Sans, sans-serif" font-size="36.45" fill="#000" stroke="#000" stroke-width="0.4">0.2</text>
<text transform="matrix(1.0600 0 0 1 350.76 1275.63)" font-family="Liberation Sans, sans-serif" font-size="36.45" fill="#000" stroke="#000" stroke-width="0.4">0.4</text>
<text transform="matrix(1.0600 0 0 1 469.78 1275.63)" font-family="Liberation Sans, sans-serif" font-size="36.45" fill="#000" stroke="#000" stroke-width="0.4">0.6</text>
<text transform="matrix(1.0600 0 0 1 588.50 1275.63)" font-family="Liberation Sans, sans-serif" font-size="36.45" fill="#000" stroke="#000" stroke-width="0.4">0.8</text>
<text transform="matrix(1.0200 0 0 1 707.36 1275.63)" font-family="Liberation Sans, sans-serif" font-size="36.45" fill="#000" stroke="#000" stroke-width="0.4">1.0</text>
<text transform="matrix(1.3128 0 0 1 419.90 1351.73)" font-family="Liberation Sans, sans-serif" font-style="italic" font-size="36.47" fill="#000" stroke="#000" stroke-width="0.4">t*</text>
<text transform="matrix(1.0816 0 0 1 521.77 866.60)" font-family="Liberation Sans, sans-serif" font-size="34.70" fill="#000" stroke="#000" stroke-width="0.4">Present</text>
<text transform="matrix(1.0270 0 0 1 523.75 922.80)" font-family="Liberation Sans, sans-serif" font-size="37.26" fill="#000" stroke="#000" stroke-width="0.4">Analytical</text>
<text transform="matrix(0.9699 0 0 1 187.50 859.88)" font-family="Liberation Sans, sans-serif" font-style="italic" font-size="39.59" fill="#000" stroke="#000" stroke-width="0.4">ξ</text>
<text transform="matrix(1.0749 0 0 1 214.21 859.42)" font-family="Liberation Sans, sans-serif" font-size="37.43" fill="#000" stroke="#000" stroke-width="0.4">= 100</text>
<text transform="matrix(1.0156 0 0 1 793.82 742.75)" font-family="Liberation Sans, sans-serif" font-size="40.53" fill="#000" stroke="#000" stroke-width="0.4">(d) Diffusive</text>
<text transform="matrix(1.0600 0 0 1 840.64 1211.02)" font-family="Liberation Sans, sans-serif" font-size="37.29" fill="#000" stroke="#000" stroke-width="0.4">0.0</text>
<text transform="matrix(1.0600 0 0 1 841.26 1134.62)" font-family="Liberation Sans, sans-serif" font-size="37.29" fill="#000" stroke="#000" stroke-width="0.4">0.2</text>
<text transform="matrix(1.0600 0 0 1 840.64 1058.22)" font-family="Liberation Sans, sans-serif" font-size="37.29" fill="#000" stroke="#000" stroke-width="0.4">0.4</text>
<text transform="matrix(1.0600 0 0 1 841.26 981.82)" font-family="Liberation Sans, sans-serif" font-size="37.29" fill="#000" stroke="#000" stroke-width="0.4">0.6</text>
<text transform="matrix(1.0600 0 0 1 841.26 905.42)" font-family="Liberation Sans, sans-serif" font-size="37.29" fill="#000" stroke="#000" stroke-width="0.4">0.8</text>
<text transform="matrix(1.0200 0 0 1 842.68 829.02)" font-family="Liberation Sans, sans-serif" font-size="37.29" fill="#000" stroke="#000" stroke-width="0.4">1.0</text>
<text transform="matrix(1.0600 0 0 1 878.01 1278.83)" font-family="Liberation Sans, sans-serif" font-size="36.73" fill="#000" stroke="#000" stroke-width="0.4">0.0</text>
<text transform="matrix(1.0308 0 0 1 1043.79 1286.32)" font-family="Liberation Sans, sans-serif" font-size="37.43" fill="#000" stroke="#000" stroke-width="0.4">2.0×10</text>
<text transform="matrix(1.0383 0 0 1 1163.22 1269.02)" font-family="Liberation Sans, sans-serif" font-size="24.35" fill="#000" stroke="#000" stroke-width="0.4">6</text>
<text transform="matrix(1.0202 0 0 1 1249.90 1286.32)" font-family="Liberation Sans, sans-serif" font-size="37.43" fill="#000" stroke="#000" stroke-width="0.4">4.0×10</text>
<text transform="matrix(1.0339 0 0 1 1368.12 1269.02)" font-family="Liberation Sans, sans-serif" font-size="24.35" fill="#000" stroke="#000" stroke-width="0.4">6</text>
<text transform="matrix(1.0388 0 0 1 1453.28 1286.32)" font-family="Liberation Sans, sans-serif" font-size="37.43" fill="#000" stroke="#000" stroke-width="0.4">6.0×10</text>
<text transform="matrix(1.0690 0 0 1 1573.58 1269.02)" font-family="Liberation Sans, sans-serif" font-size="24.35" fill="#000" stroke="#000" stroke-width="0.4">6</text>
<text transform="matrix(1.3402 0 0 1 1195.46 1353.92)" font-family="Liberation Sans, sans-serif" font-style="italic" font-size="36.84" fill="#000" stroke="#000" stroke-width="0.4">t*</text>
<text transform="matrix(1.0756 0 0 1 1305.86 867.60)" font-family="Liberation Sans, sans-serif" font-size="36.12" fill="#000" stroke="#000" stroke-width="0.4">Present</text>
<text transform="matrix(1.0171 0 0 1 1308.20 924.10)" font-family="Liberation Sans, sans-serif" font-size="38.83" fill="#000" stroke="#000" stroke-width="0.4">Analytical</text>
<text transform="matrix(0.9752 0 0 1 993.05 851.92)" font-family="Liberation Sans, sans-serif" font-style="italic" font-size="39.38" fill="#000" stroke="#000" stroke-width="0.4">ξ</text>
<text transform="matrix(1.0725 0 0 1 1019.78 851.42)" font-family="Liberation Sans, sans-serif" font-size="37.15" fill="#000" stroke="#000" stroke-width="0.4">= 0.001</text>
<text transform="matrix(0 -0.8492 1 0 812.80 321.71)" font-family="Liberation Sans, sans-serif" font-style="italic" font-size="39.40" fill="#000">A</text>
<rect x="775.65" y="307.70" width="5.3" height="5.3" rx="1.6" fill="#000"/>
<text transform="matrix(0 -0.8500 1 0 45.15 1018.81)" font-family="Liberation Sans, sans-serif" font-style="italic" font-size="37.48" fill="#000">A</text>
<rect x="9.65" y="1004.85" width="5.3" height="5.3" rx="1.6" fill="#000"/>
<text transform="matrix(0 -0.8344 1 0 823.80 1020.75)" font-family="Liberation Sans, sans-serif" font-style="italic" font-size="39.40" fill="#000">A</text>
<rect x="786.95" y="1007.25" width="5.3" height="5.3" rx="1.6" fill="#000"/>
</svg></body></html>
